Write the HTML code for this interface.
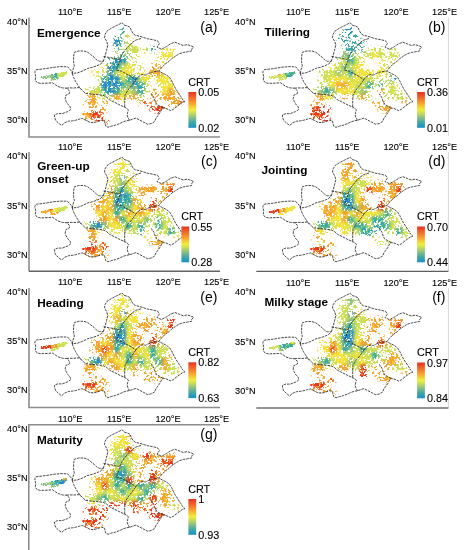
<!DOCTYPE html>
<html><head><meta charset="utf-8"><style>
html,body{margin:0;padding:0;background:#fff;}
svg{display:block;}
text{font-family:"Liberation Sans",Arial,sans-serif;fill:#1a1a1a;}
.ax{font-size:9.2px;fill:#000;stroke:#000;stroke-width:0.12px;}
.ti{font-size:11.8px;font-weight:bold;fill:#000;}
.lt{font-size:14px;fill:#000;}
.cb{font-size:10.8px;fill:#000;stroke:#000;stroke-width:0.1px;}
.bnd polyline{fill:none;stroke:#2a2a2a;stroke-width:0.85;stroke-dasharray:2.6 0.9;}
.fr polyline{fill:none;stroke:#8c8c8c;stroke-width:1.6;}
</style></head><body>
<svg width="465" height="550" viewBox="0 0 465 550">
<defs>
<linearGradient id="cb" x1="0" y1="0" x2="0" y2="1">
<stop offset="0" stop-color="#e8301e"/>
<stop offset="0.12" stop-color="#f05a28"/>
<stop offset="0.28" stop-color="#f5952e"/>
<stop offset="0.42" stop-color="#f5cf36"/>
<stop offset="0.5" stop-color="#eeee3c"/>
<stop offset="0.6" stop-color="#c4da5e"/>
<stop offset="0.72" stop-color="#88bc86"/>
<stop offset="0.86" stop-color="#3ea6a8"/>
<stop offset="1" stop-color="#1890c8"/>
</linearGradient>
<clipPath id="clipO"><polygon points="103.3,61.3 103.9,59.4 105.2,55.5 106.5,50.3 107.8,45.2 106.8,41.5 104.5,37.6 105.0,34.4 107.0,31.1 111.2,28.3 116.5,25.6 122.2,22.8 124.0,25.0 127.4,26.0 130.0,27.3 131.3,30.5 133.0,33.5 135.2,35.2 139.5,36.2 144.0,37.6 147.2,38.7 152.3,39.6 157.5,40.8 159.4,43.6 157.0,47.1 161.4,49.2 166.5,46.6 170.4,43.9 174.9,42.2 179.4,44.0 183.3,45.5 187.2,44.6 191.0,45.8 193.6,47.0 191.7,49.0 191.7,51.0 187.2,51.8 183.3,52.5 179.4,53.7 175.5,56.1 171.7,58.7 169.1,61.3 165.2,64.0 161.4,67.9 158.8,71.1 162.6,73.1 166.5,75.0 169.7,77.6 171.7,80.8 173.6,84.7 175.5,88.5 178.1,92.4 180.7,96.3 182.6,99.5 184.9,101.6 182.3,102.5 179.7,104.4 176.5,106.8 173.3,109.4 170.7,110.6 168.1,109.4 165.5,108.3 163.0,108.1 161.7,109.4 159.7,113.2 157.8,115.8 155.9,118.4 154.6,121.6 151.4,123.5 147.5,124.2 143.8,122.2 139.2,119.8 135.9,118.1 132.7,119.2 129.5,120.3 126.3,120.8 123.0,121.9 119.8,123.5 115.5,125.1 111.2,126.2 108.0,127.3 105.8,126.2 104.8,123.0 104.7,121.2 101.5,120.2 97.6,121.6 93.8,122.6 89.9,122.3 86.0,120.3 82.2,118.4 79.5,119.1 75.8,120.2 72.6,120.8 68.7,121.2 64.8,122.7 61.6,125.5 58.5,123.0 55.5,120.2 54.6,117.0 54.5,114.9 57.7,113.6 62.3,113.6 67.6,111.6 70.6,109.6 70.2,106.8 67.6,104.0 66.0,101.0 65.2,98.7 65.8,95.2 69.4,93.5 69.4,90.8 66.5,88.2 62.3,87.9 58.0,86.5 55.2,84.6 52.6,82.8 46.0,83.2 40.5,83.4 37.1,82.6 35.2,80.0 35.8,76.8 35.2,74.2 34.8,71.8 36.2,69.7 41.0,69.2 47.0,68.4 54.0,67.2 61.0,66.6 67.6,66.8 71.9,71.6 72.3,73.5"/></clipPath>
<filter id="soft" filterUnits="userSpaceOnUse" x="28" y="16" width="172" height="118" color-interpolation-filters="sRGB">
<feGaussianBlur in="SourceGraphic" stdDeviation="1.4" result="b"/>
<feTurbulence type="fractalNoise" baseFrequency="0.45" numOctaves="2" seed="7" result="n"/>
<feColorMatrix in="n" type="matrix" values="0 0 0 0 0  0 0 0 0 0  0 0 0 0 0  1 0 0 0 0" result="na"/>
<feComponentTransfer in="na" result="ns"><feFuncA type="linear" slope="3" intercept="-1"/></feComponentTransfer>
<feColorMatrix in="b" type="matrix" values="0 0 0 0 0  0 0 0 0 0  0 0 0 0 0  0 0 0 1.15 0" result="ba"/>
<feComposite in="ba" in2="ns" operator="arithmetic" k1="0" k2="5" k3="-5" k4="0" result="m"/>
<feComponentTransfer in="b" result="c"><feFuncA type="linear" slope="0" intercept="1"/></feComponentTransfer>
<feTurbulence type="fractalNoise" baseFrequency="0.45" numOctaves="1" seed="13" result="n2"/>
<feColorMatrix in="n2" type="matrix" values="0 0 0 0 0  0 0 0 0 0  0 0 0 0 0  6 0 0 0 -2.95" result="j"/>
<feFlood flood-color="#f4e23c" flood-opacity="0.5" result="fy"/>
<feComposite in="fy" in2="j" operator="in" result="yj"/>
<feComposite in="yj" in2="c" operator="over" result="c2"/>
<feComposite in="c2" in2="m" operator="in"/>
</filter>
<filter id="soft2" filterUnits="userSpaceOnUse" x="28" y="16" width="172" height="118" color-interpolation-filters="sRGB">
<feGaussianBlur in="SourceGraphic" stdDeviation="0.5" result="b"/>
<feTurbulence type="fractalNoise" baseFrequency="0.45" numOctaves="2" seed="7" result="n"/>
<feColorMatrix in="n" type="matrix" values="0 0 0 0 0  0 0 0 0 0  0 0 0 0 0  1 0 0 0 0" result="na"/>
<feComponentTransfer in="na" result="ns"><feFuncA type="linear" slope="3" intercept="-1"/></feComponentTransfer>
<feColorMatrix in="b" type="matrix" values="0 0 0 0 0  0 0 0 0 0  0 0 0 0 0  0 0 0 1.15 0" result="ba"/>
<feComposite in="ba" in2="ns" operator="arithmetic" k1="0" k2="5" k3="-5" k4="0" result="m"/>
<feComponentTransfer in="b" result="c"><feFuncA type="linear" slope="0" intercept="1"/></feComponentTransfer>
<feTurbulence type="fractalNoise" baseFrequency="0.45" numOctaves="1" seed="13" result="n2"/>
<feColorMatrix in="n2" type="matrix" values="0 0 0 0 0  0 0 0 0 0  0 0 0 0 0  6 0 0 0 -2.95" result="j"/>
<feFlood flood-color="#f4e23c" flood-opacity="0.5" result="fy"/>
<feComposite in="fy" in2="j" operator="in" result="yj"/>
<feComposite in="yj" in2="c" operator="over" result="c2"/>
<feComposite in="c2" in2="m" operator="in"/>
</filter>
</defs>
<rect width="465" height="550" fill="#fff"/>

<g class="fr">
<polyline points="29,17.5 29,137 220,137"/>
<polyline points="29,151.9 29,271.2"/>
<polyline points="29,271.2 220,271.2" style="stroke:#626262;stroke-width:1.4"/>
<polyline points="29,288 29,407.5 220,407.5"/>
<polyline points="28.8,550 28.8,424.7 220,424.7"/>
<polyline points="448.4,17.6 448.4,135.8" style="stroke:#d6d6d6;stroke-width:1"/>
<polyline points="448.4,152 448.4,271.3" style="stroke:#d6d6d6;stroke-width:1"/>
<polyline points="256.3,271.3 448.4,271.3" style="stroke:#5e5e5e;stroke-width:1.2"/>
<polyline points="448.4,288 448.4,408" style="stroke:#d6d6d6;stroke-width:1"/>
<polyline points="256.3,408 448.4,408" style="stroke:#707070;stroke-width:1.3"/>
</g>
<g transform="translate(0,0)">
<text class="ax" x="70.2" y="15" text-anchor="middle">110°E</text>
<text class="ax" x="119.2" y="15" text-anchor="middle">115°E</text>
<text class="ax" x="168.0" y="15" text-anchor="middle">120°E</text>
<text class="ax" x="216.6" y="15" text-anchor="middle">125°E</text>
<text class="ax" x="27.6" y="24.8" text-anchor="end">40°N</text>
<text class="ax" x="27.6" y="74.0" text-anchor="end">35°N</text>
<text class="ax" x="27.6" y="123.0" text-anchor="end">30°N</text>
<g class="map">
<g clip-path="url(#clipO)"><g filter="url(#soft)">
<rect x="120" y="28" width="6" height="6" fill="#2eaaa8" fill-opacity="0.36"/>
<rect x="114" y="34" width="6" height="6" fill="#2eaaa8" fill-opacity="0.36"/>
<rect x="120" y="34" width="6" height="6" fill="#86c286" fill-opacity="0.36"/>
<rect x="126" y="34" width="6" height="6" fill="#f4e23c" fill-opacity="0.36"/>
<rect x="114" y="40" width="6" height="6" fill="#1a8cd0" fill-opacity="0.88"/>
<rect x="120" y="40" width="6" height="6" fill="#86c286" fill-opacity="0.36"/>
<rect x="126" y="40" width="6" height="6" fill="#c8e05a" fill-opacity="0.36"/>
<rect x="114" y="46" width="6" height="6" fill="#2eaaa8" fill-opacity="0.36"/>
<rect x="120" y="46" width="6" height="6" fill="#c8e05a" fill-opacity="0.36"/>
<rect x="126" y="46" width="6" height="6" fill="#c8e05a" fill-opacity="0.88"/>
<rect x="132" y="46" width="6" height="6" fill="#c8e05a" fill-opacity="0.88"/>
<rect x="138" y="46" width="6" height="6" fill="#c8e05a" fill-opacity="0.36"/>
<rect x="144" y="46" width="6" height="6" fill="#c8e05a" fill-opacity="0.36"/>
<rect x="150" y="46" width="6" height="6" fill="#2eaaa8" fill-opacity="0.36"/>
<rect x="162" y="46" width="6" height="6" fill="#f4e23c" fill-opacity="0.36"/>
<rect x="168" y="46" width="6" height="6" fill="#f4e23c" fill-opacity="0.36"/>
<rect x="114" y="52" width="6" height="6" fill="#c8e05a" fill-opacity="0.36"/>
<rect x="120" y="52" width="6" height="6" fill="#2eaaa8" fill-opacity="0.36"/>
<rect x="126" y="52" width="6" height="6" fill="#86c286" fill-opacity="0.36"/>
<rect x="132" y="52" width="6" height="6" fill="#c8e05a" fill-opacity="0.36"/>
<rect x="138" y="52" width="6" height="6" fill="#f4e23c" fill-opacity="0.36"/>
<rect x="156" y="52" width="6" height="6" fill="#f4e23c" fill-opacity="0.36"/>
<rect x="162" y="52" width="6" height="6" fill="#f4e23c" fill-opacity="0.88"/>
<rect x="168" y="52" width="6" height="6" fill="#f4e23c" fill-opacity="0.88"/>
<rect x="108" y="58" width="6" height="6" fill="#2eaaa8" fill-opacity="0.36"/>
<rect x="114" y="58" width="6" height="6" fill="#1a8cd0" fill-opacity="0.88"/>
<rect x="120" y="58" width="6" height="6" fill="#1a8cd0" fill-opacity="0.88"/>
<rect x="126" y="58" width="6" height="6" fill="#c8e05a" fill-opacity="0.36"/>
<rect x="132" y="58" width="6" height="6" fill="#c8e05a" fill-opacity="0.36"/>
<rect x="156" y="58" width="6" height="6" fill="#f4e23c" fill-opacity="0.36"/>
<rect x="162" y="58" width="6" height="6" fill="#f4e23c" fill-opacity="0.36"/>
<rect x="102" y="64" width="6" height="6" fill="#f4e23c" fill-opacity="0.36"/>
<rect x="108" y="64" width="6" height="6" fill="#1a8cd0" fill-opacity="0.88"/>
<rect x="114" y="64" width="6" height="6" fill="#2eaaa8" fill-opacity="0.88"/>
<rect x="120" y="64" width="6" height="6" fill="#c8e05a" fill-opacity="0.88"/>
<rect x="126" y="64" width="6" height="6" fill="#f4e23c" fill-opacity="0.88"/>
<rect x="132" y="64" width="6" height="6" fill="#c8e05a" fill-opacity="0.36"/>
<rect x="138" y="64" width="6" height="6" fill="#c8e05a" fill-opacity="0.36"/>
<rect x="150" y="64" width="6" height="6" fill="#f5a02e" fill-opacity="0.36"/>
<rect x="156" y="64" width="6" height="6" fill="#f5a02e" fill-opacity="0.36"/>
<rect x="90" y="70" width="6" height="6" fill="#f4e23c" fill-opacity="0.36"/>
<rect x="96" y="70" width="6" height="6" fill="#f4e23c" fill-opacity="0.36"/>
<rect x="102" y="70" width="6" height="6" fill="#c8e05a" fill-opacity="0.36"/>
<rect x="108" y="70" width="6" height="6" fill="#1a8cd0" fill-opacity="0.88"/>
<rect x="114" y="70" width="6" height="6" fill="#c8e05a" fill-opacity="0.88"/>
<rect x="120" y="70" width="6" height="6" fill="#f4e23c" fill-opacity="0.88"/>
<rect x="126" y="70" width="6" height="6" fill="#f4e23c" fill-opacity="0.88"/>
<rect x="132" y="70" width="6" height="6" fill="#f4e23c" fill-opacity="0.36"/>
<rect x="138" y="70" width="6" height="6" fill="#f4e23c" fill-opacity="0.36"/>
<rect x="144" y="70" width="6" height="6" fill="#f4e23c" fill-opacity="0.36"/>
<rect x="150" y="70" width="6" height="6" fill="#f5a02e" fill-opacity="0.88"/>
<rect x="156" y="70" width="6" height="6" fill="#f5a02e" fill-opacity="0.88"/>
<rect x="162" y="70" width="6" height="6" fill="#f4e23c" fill-opacity="0.36"/>
<rect x="96" y="76" width="6" height="6" fill="#c8e05a" fill-opacity="0.36"/>
<rect x="102" y="76" width="6" height="6" fill="#2eaaa8" fill-opacity="0.88"/>
<rect x="108" y="76" width="6" height="6" fill="#1a8cd0" fill-opacity="0.88"/>
<rect x="114" y="76" width="6" height="6" fill="#1a8cd0" fill-opacity="0.88"/>
<rect x="120" y="76" width="6" height="6" fill="#c8e05a" fill-opacity="0.88"/>
<rect x="126" y="76" width="6" height="6" fill="#2eaaa8" fill-opacity="0.88"/>
<rect x="132" y="76" width="6" height="6" fill="#1a8cd0" fill-opacity="0.88"/>
<rect x="138" y="76" width="6" height="6" fill="#c8e05a" fill-opacity="0.88"/>
<rect x="144" y="76" width="6" height="6" fill="#f4e23c" fill-opacity="0.88"/>
<rect x="156" y="76" width="6" height="6" fill="#f4e23c" fill-opacity="0.88"/>
<rect x="162" y="76" width="6" height="6" fill="#f4e23c" fill-opacity="0.88"/>
<rect x="168" y="76" width="6" height="6" fill="#f4e23c" fill-opacity="0.36"/>
<rect x="96" y="82" width="6" height="6" fill="#c8e05a" fill-opacity="0.36"/>
<rect x="102" y="82" width="6" height="6" fill="#1a8cd0" fill-opacity="0.88"/>
<rect x="108" y="82" width="6" height="6" fill="#1a8cd0" fill-opacity="0.88"/>
<rect x="114" y="82" width="6" height="6" fill="#1a8cd0" fill-opacity="0.88"/>
<rect x="120" y="82" width="6" height="6" fill="#2eaaa8" fill-opacity="0.88"/>
<rect x="126" y="82" width="6" height="6" fill="#86c286" fill-opacity="0.88"/>
<rect x="132" y="82" width="6" height="6" fill="#1a8cd0" fill-opacity="0.88"/>
<rect x="138" y="82" width="6" height="6" fill="#2eaaa8" fill-opacity="0.88"/>
<rect x="144" y="82" width="6" height="6" fill="#c8e05a" fill-opacity="0.36"/>
<rect x="156" y="82" width="6" height="6" fill="#c8e05a" fill-opacity="0.36"/>
<rect x="162" y="82" width="6" height="6" fill="#f4e23c" fill-opacity="0.88"/>
<rect x="168" y="82" width="6" height="6" fill="#f4e23c" fill-opacity="0.88"/>
<rect x="84" y="88" width="6" height="6" fill="#c8e05a" fill-opacity="0.36"/>
<rect x="90" y="88" width="6" height="6" fill="#c8e05a" fill-opacity="0.88"/>
<rect x="96" y="88" width="6" height="6" fill="#c8e05a" fill-opacity="0.88"/>
<rect x="102" y="88" width="6" height="6" fill="#2eaaa8" fill-opacity="0.88"/>
<rect x="108" y="88" width="6" height="6" fill="#1a8cd0" fill-opacity="0.88"/>
<rect x="114" y="88" width="6" height="6" fill="#2eaaa8" fill-opacity="0.88"/>
<rect x="120" y="88" width="6" height="6" fill="#c8e05a" fill-opacity="0.88"/>
<rect x="126" y="88" width="6" height="6" fill="#c8e05a" fill-opacity="0.88"/>
<rect x="132" y="88" width="6" height="6" fill="#86c286" fill-opacity="0.88"/>
<rect x="138" y="88" width="6" height="6" fill="#2eaaa8" fill-opacity="0.88"/>
<rect x="144" y="88" width="6" height="6" fill="#c8e05a" fill-opacity="0.36"/>
<rect x="150" y="88" width="6" height="6" fill="#f5a02e" fill-opacity="0.36"/>
<rect x="162" y="88" width="6" height="6" fill="#f4e23c" fill-opacity="0.88"/>
<rect x="168" y="88" width="6" height="6" fill="#f5a02e" fill-opacity="0.88"/>
<rect x="174" y="88" width="6" height="6" fill="#f4e23c" fill-opacity="0.36"/>
<rect x="84" y="94" width="6" height="6" fill="#f5a02e" fill-opacity="0.36"/>
<rect x="90" y="94" width="6" height="6" fill="#f5a02e" fill-opacity="0.88"/>
<rect x="96" y="94" width="6" height="6" fill="#f4e23c" fill-opacity="0.36"/>
<rect x="102" y="94" width="6" height="6" fill="#c8e05a" fill-opacity="0.36"/>
<rect x="108" y="94" width="6" height="6" fill="#c8e05a" fill-opacity="0.36"/>
<rect x="114" y="94" width="6" height="6" fill="#f5a02e" fill-opacity="0.88"/>
<rect x="120" y="94" width="6" height="6" fill="#f4e23c" fill-opacity="0.88"/>
<rect x="126" y="94" width="6" height="6" fill="#f5a02e" fill-opacity="0.36"/>
<rect x="132" y="94" width="6" height="6" fill="#f5a02e" fill-opacity="0.88"/>
<rect x="138" y="94" width="6" height="6" fill="#c8e05a" fill-opacity="0.36"/>
<rect x="150" y="94" width="6" height="6" fill="#f5a02e" fill-opacity="0.36"/>
<rect x="156" y="94" width="6" height="6" fill="#f5a02e" fill-opacity="0.36"/>
<rect x="162" y="94" width="6" height="6" fill="#f5a02e" fill-opacity="0.88"/>
<rect x="168" y="94" width="6" height="6" fill="#f5a02e" fill-opacity="0.88"/>
<rect x="174" y="94" width="6" height="6" fill="#f5a02e" fill-opacity="0.36"/>
<rect x="84" y="100" width="6" height="6" fill="#f5a02e" fill-opacity="0.36"/>
<rect x="90" y="100" width="6" height="6" fill="#f5a02e" fill-opacity="0.88"/>
<rect x="102" y="100" width="6" height="6" fill="#f5a02e" fill-opacity="0.36"/>
<rect x="138" y="100" width="6" height="6" fill="#f5a02e" fill-opacity="0.36"/>
<rect x="144" y="100" width="6" height="6" fill="#e8361e" fill-opacity="0.36"/>
<rect x="150" y="100" width="6" height="6" fill="#f5a02e" fill-opacity="0.36"/>
<rect x="168" y="100" width="6" height="6" fill="#f5a02e" fill-opacity="0.36"/>
<rect x="174" y="100" width="6" height="6" fill="#f5a02e" fill-opacity="0.88"/>
<rect x="180" y="100" width="6" height="6" fill="#e8361e" fill-opacity="0.88"/>
<rect x="90" y="106" width="6" height="6" fill="#f5a02e" fill-opacity="0.36"/>
<rect x="96" y="106" width="6" height="6" fill="#f5a02e" fill-opacity="0.36"/>
<rect x="102" y="106" width="6" height="6" fill="#f5a02e" fill-opacity="0.36"/>
<rect x="150" y="106" width="6" height="6" fill="#e8361e" fill-opacity="0.36"/>
<rect x="156" y="106" width="6" height="6" fill="#e8361e" fill-opacity="0.88"/>
<rect x="162" y="106" width="6" height="6" fill="#e8361e" fill-opacity="0.36"/>
<rect x="84" y="112" width="6" height="6" fill="#f5a02e" fill-opacity="0.88"/>
<rect x="90" y="112" width="6" height="6" fill="#e8361e" fill-opacity="0.88"/>
<rect x="96" y="112" width="6" height="6" fill="#e8361e" fill-opacity="0.88"/>
<rect x="84" y="118" width="6" height="6" fill="#f5a02e" fill-opacity="0.36"/>
<rect x="90" y="118" width="6" height="6" fill="#f5a02e" fill-opacity="0.36"/>
<rect x="96" y="118" width="6" height="6" fill="#e8361e" fill-opacity="0.36"/>
<rect x="102" y="118" width="6" height="6" fill="#e8361e" fill-opacity="0.36"/>
</g><g filter="url(#soft2)">
<polygon points="41,76.4 46,75.4 51,74.4 52,78 46,79 41.5,78.6" fill="#86c286" fill-opacity="1.00"/>
<polygon points="51,74.4 57,73.4 58,77.4 52,78" fill="#2eaaa8" fill-opacity="1.00"/>
<polygon points="57,73.4 62,72 67,71.2 67.6,73.2 64,76.2 58,77.4" fill="#c8e05a" fill-opacity="1.00"/>
<polygon points="50,78.6 56,77.4 61,77.6 57,80 51,80.4" fill="#86c286" fill-opacity="0.75"/>
</g></g>
<g class="bnd">
<polyline points="141.0,38.5 136.0,40.0 132.5,42.2 128.2,46.5 123.9,51.8 121.7,55.1 120.5,58.5 119.6,61.5 117.4,66.9 116.4,70.1"/>
<polyline points="103.5,56.5 109.9,57.6 114.2,58.3 118.5,59.4 120.5,58.5"/>
<polyline points="116.4,70.1 121.7,71.2 127.1,74.4 131.4,76.6 135.7,79.8"/>
<polyline points="135.7,79.8 138.0,77.0 142.1,74.5 145.3,75.0 148.6,73.4 152.9,71.8 158.8,71.1"/>
<polyline points="135.7,79.8 132.0,85.0 128.0,90.0 125.0,95.0 124.7,100.0 124.7,108.1"/>
<polyline points="103.3,61.3 103.9,59.4 105.2,55.5 106.5,50.3 107.8,45.2 106.8,41.5 104.5,37.6 105.0,34.4 107.0,31.1 111.2,28.3 116.5,25.6 122.2,22.8 124.0,25.0 127.4,26.0 130.0,27.3 131.3,30.5 133.0,33.5 135.2,35.2 139.5,36.2 144.0,37.6 147.2,38.7 152.3,39.6 157.5,40.8 159.4,43.6 157.0,47.1 161.4,49.2 166.5,46.6 170.4,43.9 174.9,42.2 179.4,44.0 183.3,45.5 187.2,44.6 191.0,45.8 193.6,47.0 191.7,49.0 191.7,51.0 187.2,51.8 183.3,52.5 179.4,53.7 175.5,56.1 171.7,58.7 169.1,61.3 165.2,64.0 161.4,67.9 158.8,71.1 162.6,73.1 166.5,75.0 169.7,77.6 171.7,80.8 173.6,84.7 175.5,88.5 178.1,92.4 180.7,96.3 182.6,99.5 184.9,101.6 182.3,102.5 179.7,104.4 176.5,106.8 173.3,109.4 170.7,110.6 168.1,109.4 165.5,108.3 163.0,108.1 161.7,109.4 159.7,113.2 157.8,115.8 155.9,118.4 154.6,121.6 151.4,123.5 147.5,124.2 143.8,122.2 139.2,119.8 135.9,118.1 132.7,119.2 129.5,120.3 126.3,120.8 123.0,121.9 119.8,123.5 115.5,125.1 111.2,126.2 108.0,127.3 105.8,126.2 104.8,123.0 104.7,121.2 101.5,120.2 97.6,121.6 93.8,122.6 89.9,122.3 86.0,120.3 82.2,118.4 79.5,119.1 75.8,120.2 72.6,120.8 68.7,121.2 64.8,122.7 61.6,125.5 58.5,123.0 55.5,120.2 54.6,117.0 54.5,114.9 57.7,113.6 62.3,113.6 67.6,111.6 70.6,109.6 70.2,106.8 67.6,104.0 66.0,101.0 65.2,98.7 65.8,95.2 69.4,93.5 69.4,90.8 66.5,88.2 62.3,87.9 58.0,86.5 55.2,84.6 52.6,82.8 46.0,83.2 40.5,83.4 37.1,82.6 35.2,80.0 35.8,76.8 35.2,74.2 34.8,71.8 36.2,69.7 41.0,69.2 47.0,68.4 54.0,67.2 61.0,66.6 67.6,66.8 71.9,71.6 72.3,73.5"/>
<polyline points="72.3,73.5 73.0,69.7 74.3,65.8 73.6,61.9 73.6,56.8 74.3,52.3 78.8,51.0 83.9,51.0 87.8,52.3 91.0,54.8 94.3,57.4 96.8,60.0 99.4,61.3 103.3,61.3 100.7,63.9 96.8,65.8 93.0,67.1 87.8,68.4 82.6,71.0 77.5,72.9 72.3,73.5"/>
<polyline points="72.3,73.5 73.6,77.4 75.5,81.3 77.5,84.5 79.7,87.7 81.6,89.6 85.5,93.4"/>
<polyline points="66.5,88.2 70.0,87.9 73.9,88.0 79.0,87.6 81.6,89.6"/>
<polyline points="85.5,93.4 89.9,93.9 96.4,94.5 102.8,95.2 106.7,97.1 109.3,99.7 113.1,101.6 117.0,103.5 120.9,105.5 124.1,106.8 126.8,108.4 128.4,109.8 127.6,112.6 127.1,115.0 128.0,117.6 129.5,120.3"/>
<polyline points="163.0,108.1 159.7,106.1 156.5,104.2 155.2,101.6 153.9,97.7 151.4,93.9"/>
</g></g>
<text class="ti" x="37.0" y="36.6">Emergence</text>
<text class="lt" x="217.4" y="31.6" text-anchor="end">(a)</text>
<rect x="188.4" y="92" width="7.8" height="35.8" fill="url(#cb)"/>
<text class="cb" x="188.2" y="85.6">CRT</text>
<text class="cb" x="198.2" y="96.2">0.05</text>
<text class="cb" x="198.2" y="131.8">0.02</text>
</g>
<g transform="translate(228,0)">
<text class="ax" x="70.2" y="15" text-anchor="middle">110°E</text>
<text class="ax" x="119.2" y="15" text-anchor="middle">115°E</text>
<text class="ax" x="168.0" y="15" text-anchor="middle">120°E</text>
<text class="ax" x="216.6" y="15" text-anchor="middle">125°E</text>
<text class="ax" x="27.6" y="24.8" text-anchor="end">40°N</text>
<text class="ax" x="27.6" y="74.0" text-anchor="end">35°N</text>
<text class="ax" x="27.6" y="123.0" text-anchor="end">30°N</text>
<g class="map">
<g clip-path="url(#clipO)"><g filter="url(#soft)">
<rect x="114" y="28" width="6" height="6" fill="#1a8cd0" fill-opacity="0.36"/>
<rect x="120" y="28" width="6" height="6" fill="#1a8cd0" fill-opacity="0.36"/>
<rect x="108" y="34" width="6" height="6" fill="#2eaaa8" fill-opacity="0.36"/>
<rect x="114" y="34" width="6" height="6" fill="#1a8cd0" fill-opacity="0.36"/>
<rect x="120" y="34" width="6" height="6" fill="#2eaaa8" fill-opacity="0.36"/>
<rect x="126" y="34" width="6" height="6" fill="#2eaaa8" fill-opacity="0.36"/>
<rect x="114" y="40" width="6" height="6" fill="#2eaaa8" fill-opacity="0.36"/>
<rect x="120" y="40" width="6" height="6" fill="#2eaaa8" fill-opacity="0.36"/>
<rect x="126" y="40" width="6" height="6" fill="#2eaaa8" fill-opacity="0.36"/>
<rect x="132" y="40" width="6" height="6" fill="#2eaaa8" fill-opacity="0.36"/>
<rect x="114" y="46" width="6" height="6" fill="#2eaaa8" fill-opacity="0.36"/>
<rect x="120" y="46" width="6" height="6" fill="#2eaaa8" fill-opacity="0.88"/>
<rect x="126" y="46" width="6" height="6" fill="#2eaaa8" fill-opacity="0.36"/>
<rect x="132" y="46" width="6" height="6" fill="#2eaaa8" fill-opacity="0.36"/>
<rect x="138" y="46" width="6" height="6" fill="#c8e05a" fill-opacity="0.36"/>
<rect x="144" y="46" width="6" height="6" fill="#c8e05a" fill-opacity="0.36"/>
<rect x="150" y="46" width="6" height="6" fill="#c8e05a" fill-opacity="0.36"/>
<rect x="162" y="46" width="6" height="6" fill="#c8e05a" fill-opacity="0.36"/>
<rect x="114" y="52" width="6" height="6" fill="#86c286" fill-opacity="0.88"/>
<rect x="120" y="52" width="6" height="6" fill="#2eaaa8" fill-opacity="0.36"/>
<rect x="126" y="52" width="6" height="6" fill="#c8e05a" fill-opacity="0.36"/>
<rect x="132" y="52" width="6" height="6" fill="#c8e05a" fill-opacity="0.36"/>
<rect x="138" y="52" width="6" height="6" fill="#c8e05a" fill-opacity="0.88"/>
<rect x="144" y="52" width="6" height="6" fill="#f4e23c" fill-opacity="0.88"/>
<rect x="150" y="52" width="6" height="6" fill="#c8e05a" fill-opacity="0.88"/>
<rect x="156" y="52" width="6" height="6" fill="#c8e05a" fill-opacity="0.36"/>
<rect x="162" y="52" width="6" height="6" fill="#c8e05a" fill-opacity="0.88"/>
<rect x="168" y="52" width="6" height="6" fill="#c8e05a" fill-opacity="0.36"/>
<rect x="108" y="58" width="6" height="6" fill="#c8e05a" fill-opacity="0.36"/>
<rect x="114" y="58" width="6" height="6" fill="#c8e05a" fill-opacity="0.88"/>
<rect x="120" y="58" width="6" height="6" fill="#2eaaa8" fill-opacity="0.88"/>
<rect x="126" y="58" width="6" height="6" fill="#c8e05a" fill-opacity="0.88"/>
<rect x="132" y="58" width="6" height="6" fill="#f4e23c" fill-opacity="0.36"/>
<rect x="150" y="58" width="6" height="6" fill="#f4e23c" fill-opacity="0.36"/>
<rect x="156" y="58" width="6" height="6" fill="#c8e05a" fill-opacity="0.36"/>
<rect x="162" y="58" width="6" height="6" fill="#c8e05a" fill-opacity="0.36"/>
<rect x="102" y="64" width="6" height="6" fill="#f4e23c" fill-opacity="0.36"/>
<rect x="108" y="64" width="6" height="6" fill="#c8e05a" fill-opacity="0.88"/>
<rect x="114" y="64" width="6" height="6" fill="#86c286" fill-opacity="0.88"/>
<rect x="120" y="64" width="6" height="6" fill="#c8e05a" fill-opacity="0.88"/>
<rect x="126" y="64" width="6" height="6" fill="#f4e23c" fill-opacity="0.88"/>
<rect x="132" y="64" width="6" height="6" fill="#f4e23c" fill-opacity="0.36"/>
<rect x="150" y="64" width="6" height="6" fill="#f4e23c" fill-opacity="0.36"/>
<rect x="156" y="64" width="6" height="6" fill="#c8e05a" fill-opacity="0.36"/>
<rect x="90" y="70" width="6" height="6" fill="#c8e05a" fill-opacity="0.36"/>
<rect x="96" y="70" width="6" height="6" fill="#c8e05a" fill-opacity="0.88"/>
<rect x="102" y="70" width="6" height="6" fill="#c8e05a" fill-opacity="0.88"/>
<rect x="108" y="70" width="6" height="6" fill="#86c286" fill-opacity="0.88"/>
<rect x="114" y="70" width="6" height="6" fill="#c8e05a" fill-opacity="0.88"/>
<rect x="120" y="70" width="6" height="6" fill="#2eaaa8" fill-opacity="0.88"/>
<rect x="126" y="70" width="6" height="6" fill="#f4e23c" fill-opacity="0.88"/>
<rect x="132" y="70" width="6" height="6" fill="#f4e23c" fill-opacity="0.88"/>
<rect x="138" y="70" width="6" height="6" fill="#f4e23c" fill-opacity="0.88"/>
<rect x="144" y="70" width="6" height="6" fill="#f4e23c" fill-opacity="0.36"/>
<rect x="150" y="70" width="6" height="6" fill="#f4e23c" fill-opacity="0.88"/>
<rect x="156" y="70" width="6" height="6" fill="#c8e05a" fill-opacity="0.36"/>
<rect x="90" y="76" width="6" height="6" fill="#c8e05a" fill-opacity="0.36"/>
<rect x="96" y="76" width="6" height="6" fill="#c8e05a" fill-opacity="0.88"/>
<rect x="102" y="76" width="6" height="6" fill="#f4e23c" fill-opacity="0.88"/>
<rect x="108" y="76" width="6" height="6" fill="#f4e23c" fill-opacity="0.88"/>
<rect x="114" y="76" width="6" height="6" fill="#f4e23c" fill-opacity="0.88"/>
<rect x="120" y="76" width="6" height="6" fill="#c8e05a" fill-opacity="0.88"/>
<rect x="126" y="76" width="6" height="6" fill="#f4e23c" fill-opacity="0.88"/>
<rect x="132" y="76" width="6" height="6" fill="#c8e05a" fill-opacity="0.88"/>
<rect x="138" y="76" width="6" height="6" fill="#c8e05a" fill-opacity="0.88"/>
<rect x="144" y="76" width="6" height="6" fill="#c8e05a" fill-opacity="0.36"/>
<rect x="150" y="76" width="6" height="6" fill="#c8e05a" fill-opacity="0.36"/>
<rect x="156" y="76" width="6" height="6" fill="#c8e05a" fill-opacity="0.36"/>
<rect x="162" y="76" width="6" height="6" fill="#2eaaa8" fill-opacity="0.36"/>
<rect x="90" y="82" width="6" height="6" fill="#c8e05a" fill-opacity="0.36"/>
<rect x="96" y="82" width="6" height="6" fill="#c8e05a" fill-opacity="0.36"/>
<rect x="102" y="82" width="6" height="6" fill="#f4e23c" fill-opacity="0.88"/>
<rect x="108" y="82" width="6" height="6" fill="#f5a02e" fill-opacity="0.88"/>
<rect x="114" y="82" width="6" height="6" fill="#f5a02e" fill-opacity="0.88"/>
<rect x="120" y="82" width="6" height="6" fill="#f4e23c" fill-opacity="0.88"/>
<rect x="126" y="82" width="6" height="6" fill="#c8e05a" fill-opacity="0.88"/>
<rect x="132" y="82" width="6" height="6" fill="#c8e05a" fill-opacity="0.88"/>
<rect x="138" y="82" width="6" height="6" fill="#2eaaa8" fill-opacity="0.88"/>
<rect x="144" y="82" width="6" height="6" fill="#c8e05a" fill-opacity="0.36"/>
<rect x="150" y="82" width="6" height="6" fill="#2eaaa8" fill-opacity="0.36"/>
<rect x="156" y="82" width="6" height="6" fill="#c8e05a" fill-opacity="0.36"/>
<rect x="162" y="82" width="6" height="6" fill="#c8e05a" fill-opacity="0.88"/>
<rect x="84" y="88" width="6" height="6" fill="#c8e05a" fill-opacity="0.36"/>
<rect x="90" y="88" width="6" height="6" fill="#86c286" fill-opacity="0.88"/>
<rect x="96" y="88" width="6" height="6" fill="#2eaaa8" fill-opacity="0.88"/>
<rect x="102" y="88" width="6" height="6" fill="#86c286" fill-opacity="0.88"/>
<rect x="108" y="88" width="6" height="6" fill="#f4e23c" fill-opacity="0.88"/>
<rect x="114" y="88" width="6" height="6" fill="#f4e23c" fill-opacity="0.88"/>
<rect x="120" y="88" width="6" height="6" fill="#f4e23c" fill-opacity="0.88"/>
<rect x="126" y="88" width="6" height="6" fill="#c8e05a" fill-opacity="0.88"/>
<rect x="132" y="88" width="6" height="6" fill="#86c286" fill-opacity="0.88"/>
<rect x="138" y="88" width="6" height="6" fill="#c8e05a" fill-opacity="0.36"/>
<rect x="150" y="88" width="6" height="6" fill="#f5a02e" fill-opacity="0.36"/>
<rect x="156" y="88" width="6" height="6" fill="#c8e05a" fill-opacity="0.36"/>
<rect x="162" y="88" width="6" height="6" fill="#c8e05a" fill-opacity="0.88"/>
<rect x="168" y="88" width="6" height="6" fill="#c8e05a" fill-opacity="0.36"/>
<rect x="84" y="94" width="6" height="6" fill="#f5a02e" fill-opacity="0.36"/>
<rect x="90" y="94" width="6" height="6" fill="#f5a02e" fill-opacity="0.88"/>
<rect x="96" y="94" width="6" height="6" fill="#f4e23c" fill-opacity="0.88"/>
<rect x="102" y="94" width="6" height="6" fill="#c8e05a" fill-opacity="0.36"/>
<rect x="114" y="94" width="6" height="6" fill="#f5a02e" fill-opacity="0.36"/>
<rect x="126" y="94" width="6" height="6" fill="#c8e05a" fill-opacity="0.36"/>
<rect x="132" y="94" width="6" height="6" fill="#f5a02e" fill-opacity="0.88"/>
<rect x="138" y="94" width="6" height="6" fill="#c8e05a" fill-opacity="0.36"/>
<rect x="156" y="94" width="6" height="6" fill="#c8e05a" fill-opacity="0.36"/>
<rect x="162" y="94" width="6" height="6" fill="#c8e05a" fill-opacity="0.36"/>
<rect x="168" y="94" width="6" height="6" fill="#c8e05a" fill-opacity="0.88"/>
<rect x="174" y="94" width="6" height="6" fill="#c8e05a" fill-opacity="0.36"/>
<rect x="84" y="100" width="6" height="6" fill="#f5a02e" fill-opacity="0.36"/>
<rect x="90" y="100" width="6" height="6" fill="#f5a02e" fill-opacity="0.36"/>
<rect x="144" y="100" width="6" height="6" fill="#f5a02e" fill-opacity="0.36"/>
<rect x="150" y="100" width="6" height="6" fill="#f5a02e" fill-opacity="0.36"/>
<rect x="174" y="100" width="6" height="6" fill="#f5a02e" fill-opacity="0.36"/>
<rect x="84" y="106" width="6" height="6" fill="#e8361e" fill-opacity="0.88"/>
<rect x="90" y="106" width="6" height="6" fill="#e8361e" fill-opacity="0.36"/>
<rect x="96" y="106" width="6" height="6" fill="#e8361e" fill-opacity="0.36"/>
<rect x="150" y="106" width="6" height="6" fill="#f5a02e" fill-opacity="0.36"/>
<rect x="156" y="106" width="6" height="6" fill="#f5a02e" fill-opacity="0.88"/>
<rect x="84" y="112" width="6" height="6" fill="#e8361e" fill-opacity="0.88"/>
<rect x="90" y="112" width="6" height="6" fill="#e8361e" fill-opacity="0.88"/>
<rect x="96" y="112" width="6" height="6" fill="#e8361e" fill-opacity="0.36"/>
<rect x="90" y="118" width="6" height="6" fill="#e8361e" fill-opacity="0.36"/>
<rect x="96" y="118" width="6" height="6" fill="#e8361e" fill-opacity="0.36"/>
</g><g filter="url(#soft2)">
<polygon points="41,76.4 46,75.4 51,74.4 52,78 46,79 41.5,78.6" fill="#c8e05a" fill-opacity="1.00"/>
<polygon points="51,74.4 57,73.4 58,77.4 52,78" fill="#c8e05a" fill-opacity="1.00"/>
<polygon points="57,73.4 62,72 67,71.2 67.6,73.2 64,76.2 58,77.4" fill="#2eaaa8" fill-opacity="1.00"/>
<polygon points="50,78.6 56,77.4 61,77.6 57,80 51,80.4" fill="#c8e05a" fill-opacity="0.75"/>
<ellipse cx="51.5" cy="74.8" rx="1.3" ry="1.1" fill="#f6a030" fill-opacity="0.95"/>
</g></g>
<g class="bnd">
<polyline points="141.0,38.5 136.0,40.0 132.5,42.2 128.2,46.5 123.9,51.8 121.7,55.1 120.5,58.5 119.6,61.5 117.4,66.9 116.4,70.1"/>
<polyline points="103.5,56.5 109.9,57.6 114.2,58.3 118.5,59.4 120.5,58.5"/>
<polyline points="116.4,70.1 121.7,71.2 127.1,74.4 131.4,76.6 135.7,79.8"/>
<polyline points="135.7,79.8 138.0,77.0 142.1,74.5 145.3,75.0 148.6,73.4 152.9,71.8 158.8,71.1"/>
<polyline points="135.7,79.8 132.0,85.0 128.0,90.0 125.0,95.0 124.7,100.0 124.7,108.1"/>
<polyline points="103.3,61.3 103.9,59.4 105.2,55.5 106.5,50.3 107.8,45.2 106.8,41.5 104.5,37.6 105.0,34.4 107.0,31.1 111.2,28.3 116.5,25.6 122.2,22.8 124.0,25.0 127.4,26.0 130.0,27.3 131.3,30.5 133.0,33.5 135.2,35.2 139.5,36.2 144.0,37.6 147.2,38.7 152.3,39.6 157.5,40.8 159.4,43.6 157.0,47.1 161.4,49.2 166.5,46.6 170.4,43.9 174.9,42.2 179.4,44.0 183.3,45.5 187.2,44.6 191.0,45.8 193.6,47.0 191.7,49.0 191.7,51.0 187.2,51.8 183.3,52.5 179.4,53.7 175.5,56.1 171.7,58.7 169.1,61.3 165.2,64.0 161.4,67.9 158.8,71.1 162.6,73.1 166.5,75.0 169.7,77.6 171.7,80.8 173.6,84.7 175.5,88.5 178.1,92.4 180.7,96.3 182.6,99.5 184.9,101.6 182.3,102.5 179.7,104.4 176.5,106.8 173.3,109.4 170.7,110.6 168.1,109.4 165.5,108.3 163.0,108.1 161.7,109.4 159.7,113.2 157.8,115.8 155.9,118.4 154.6,121.6 151.4,123.5 147.5,124.2 143.8,122.2 139.2,119.8 135.9,118.1 132.7,119.2 129.5,120.3 126.3,120.8 123.0,121.9 119.8,123.5 115.5,125.1 111.2,126.2 108.0,127.3 105.8,126.2 104.8,123.0 104.7,121.2 101.5,120.2 97.6,121.6 93.8,122.6 89.9,122.3 86.0,120.3 82.2,118.4 79.5,119.1 75.8,120.2 72.6,120.8 68.7,121.2 64.8,122.7 61.6,125.5 58.5,123.0 55.5,120.2 54.6,117.0 54.5,114.9 57.7,113.6 62.3,113.6 67.6,111.6 70.6,109.6 70.2,106.8 67.6,104.0 66.0,101.0 65.2,98.7 65.8,95.2 69.4,93.5 69.4,90.8 66.5,88.2 62.3,87.9 58.0,86.5 55.2,84.6 52.6,82.8 46.0,83.2 40.5,83.4 37.1,82.6 35.2,80.0 35.8,76.8 35.2,74.2 34.8,71.8 36.2,69.7 41.0,69.2 47.0,68.4 54.0,67.2 61.0,66.6 67.6,66.8 71.9,71.6 72.3,73.5"/>
<polyline points="72.3,73.5 73.0,69.7 74.3,65.8 73.6,61.9 73.6,56.8 74.3,52.3 78.8,51.0 83.9,51.0 87.8,52.3 91.0,54.8 94.3,57.4 96.8,60.0 99.4,61.3 103.3,61.3 100.7,63.9 96.8,65.8 93.0,67.1 87.8,68.4 82.6,71.0 77.5,72.9 72.3,73.5"/>
<polyline points="72.3,73.5 73.6,77.4 75.5,81.3 77.5,84.5 79.7,87.7 81.6,89.6 85.5,93.4"/>
<polyline points="66.5,88.2 70.0,87.9 73.9,88.0 79.0,87.6 81.6,89.6"/>
<polyline points="85.5,93.4 89.9,93.9 96.4,94.5 102.8,95.2 106.7,97.1 109.3,99.7 113.1,101.6 117.0,103.5 120.9,105.5 124.1,106.8 126.8,108.4 128.4,109.8 127.6,112.6 127.1,115.0 128.0,117.6 129.5,120.3"/>
<polyline points="163.0,108.1 159.7,106.1 156.5,104.2 155.2,101.6 153.9,97.7 151.4,93.9"/>
</g></g>
<text class="ti" x="36.4" y="36.3">Tillering</text>
<text class="lt" x="217.4" y="31.6" text-anchor="end">(b)</text>
<rect x="189.1" y="92" width="7.8" height="35.8" fill="url(#cb)"/>
<text class="cb" x="188.9" y="85.6">CRT</text>
<text class="cb" x="198.9" y="96.2">0.36</text>
<text class="cb" x="198.9" y="131.8">0.01</text>
</g>
<g transform="translate(0,134.5)">
<text class="ax" x="70.2" y="15" text-anchor="middle">110°E</text>
<text class="ax" x="119.2" y="15" text-anchor="middle">115°E</text>
<text class="ax" x="168.0" y="15" text-anchor="middle">120°E</text>
<text class="ax" x="216.6" y="15" text-anchor="middle">125°E</text>
<text class="ax" x="27.6" y="24.8" text-anchor="end">40°N</text>
<text class="ax" x="27.6" y="74.0" text-anchor="end">35°N</text>
<text class="ax" x="27.6" y="123.0" text-anchor="end">30°N</text>
<g class="map">
<g clip-path="url(#clipO)"><g filter="url(#soft)">
<rect x="120" y="22" width="6" height="6" fill="#f4e23c" fill-opacity="0.36"/>
<rect x="114" y="28" width="6" height="6" fill="#f4e23c" fill-opacity="0.36"/>
<rect x="120" y="28" width="6" height="6" fill="#f4e23c" fill-opacity="0.88"/>
<rect x="126" y="28" width="6" height="6" fill="#c8e05a" fill-opacity="0.36"/>
<rect x="108" y="34" width="6" height="6" fill="#f4e23c" fill-opacity="0.36"/>
<rect x="114" y="34" width="6" height="6" fill="#f4e23c" fill-opacity="0.88"/>
<rect x="120" y="34" width="6" height="6" fill="#f4e23c" fill-opacity="0.36"/>
<rect x="126" y="34" width="6" height="6" fill="#c8e05a" fill-opacity="0.36"/>
<rect x="108" y="40" width="6" height="6" fill="#f4e23c" fill-opacity="0.36"/>
<rect x="114" y="40" width="6" height="6" fill="#c8e05a" fill-opacity="0.88"/>
<rect x="120" y="40" width="6" height="6" fill="#2eaaa8" fill-opacity="0.36"/>
<rect x="126" y="40" width="6" height="6" fill="#f4e23c" fill-opacity="0.36"/>
<rect x="132" y="40" width="6" height="6" fill="#f5a02e" fill-opacity="0.36"/>
<rect x="108" y="46" width="6" height="6" fill="#f4e23c" fill-opacity="0.36"/>
<rect x="114" y="46" width="6" height="6" fill="#c8e05a" fill-opacity="0.88"/>
<rect x="120" y="46" width="6" height="6" fill="#86c286" fill-opacity="0.88"/>
<rect x="126" y="46" width="6" height="6" fill="#f4e23c" fill-opacity="0.88"/>
<rect x="132" y="46" width="6" height="6" fill="#f4e23c" fill-opacity="0.36"/>
<rect x="162" y="46" width="6" height="6" fill="#f5a02e" fill-opacity="0.36"/>
<rect x="168" y="46" width="6" height="6" fill="#f5a02e" fill-opacity="0.36"/>
<rect x="108" y="52" width="6" height="6" fill="#f5a02e" fill-opacity="0.36"/>
<rect x="114" y="52" width="6" height="6" fill="#86c286" fill-opacity="0.88"/>
<rect x="120" y="52" width="6" height="6" fill="#2eaaa8" fill-opacity="0.88"/>
<rect x="126" y="52" width="6" height="6" fill="#c8e05a" fill-opacity="0.88"/>
<rect x="132" y="52" width="6" height="6" fill="#f4e23c" fill-opacity="0.36"/>
<rect x="138" y="52" width="6" height="6" fill="#f5a02e" fill-opacity="0.88"/>
<rect x="144" y="52" width="6" height="6" fill="#f5a02e" fill-opacity="0.88"/>
<rect x="150" y="52" width="6" height="6" fill="#f5a02e" fill-opacity="0.88"/>
<rect x="156" y="52" width="6" height="6" fill="#f5a02e" fill-opacity="0.36"/>
<rect x="162" y="52" width="6" height="6" fill="#f5a02e" fill-opacity="0.88"/>
<rect x="168" y="52" width="6" height="6" fill="#e8361e" fill-opacity="0.88"/>
<rect x="102" y="58" width="6" height="6" fill="#f4e23c" fill-opacity="0.36"/>
<rect x="108" y="58" width="6" height="6" fill="#f5a02e" fill-opacity="0.88"/>
<rect x="114" y="58" width="6" height="6" fill="#2eaaa8" fill-opacity="0.88"/>
<rect x="120" y="58" width="6" height="6" fill="#1a8cd0" fill-opacity="0.88"/>
<rect x="126" y="58" width="6" height="6" fill="#2eaaa8" fill-opacity="0.88"/>
<rect x="132" y="58" width="6" height="6" fill="#f4e23c" fill-opacity="0.36"/>
<rect x="138" y="58" width="6" height="6" fill="#f5a02e" fill-opacity="0.36"/>
<rect x="162" y="58" width="6" height="6" fill="#f5a02e" fill-opacity="0.36"/>
<rect x="96" y="64" width="6" height="6" fill="#f5a02e" fill-opacity="0.36"/>
<rect x="102" y="64" width="6" height="6" fill="#f5a02e" fill-opacity="0.88"/>
<rect x="108" y="64" width="6" height="6" fill="#f4e23c" fill-opacity="0.88"/>
<rect x="114" y="64" width="6" height="6" fill="#1a8cd0" fill-opacity="0.88"/>
<rect x="120" y="64" width="6" height="6" fill="#2eaaa8" fill-opacity="0.88"/>
<rect x="126" y="64" width="6" height="6" fill="#2eaaa8" fill-opacity="0.88"/>
<rect x="132" y="64" width="6" height="6" fill="#f5a02e" fill-opacity="0.88"/>
<rect x="138" y="64" width="6" height="6" fill="#f4e23c" fill-opacity="0.36"/>
<rect x="150" y="64" width="6" height="6" fill="#e8361e" fill-opacity="0.36"/>
<rect x="156" y="64" width="6" height="6" fill="#f5a02e" fill-opacity="0.36"/>
<rect x="90" y="70" width="6" height="6" fill="#f5a02e" fill-opacity="0.36"/>
<rect x="96" y="70" width="6" height="6" fill="#f5a02e" fill-opacity="0.88"/>
<rect x="102" y="70" width="6" height="6" fill="#f4e23c" fill-opacity="0.88"/>
<rect x="108" y="70" width="6" height="6" fill="#f5a02e" fill-opacity="0.88"/>
<rect x="114" y="70" width="6" height="6" fill="#2eaaa8" fill-opacity="0.88"/>
<rect x="120" y="70" width="6" height="6" fill="#2eaaa8" fill-opacity="0.88"/>
<rect x="126" y="70" width="6" height="6" fill="#86c286" fill-opacity="0.88"/>
<rect x="132" y="70" width="6" height="6" fill="#f4e23c" fill-opacity="0.88"/>
<rect x="138" y="70" width="6" height="6" fill="#f5a02e" fill-opacity="0.88"/>
<rect x="144" y="70" width="6" height="6" fill="#f5a02e" fill-opacity="0.36"/>
<rect x="150" y="70" width="6" height="6" fill="#e8361e" fill-opacity="0.88"/>
<rect x="156" y="70" width="6" height="6" fill="#f5a02e" fill-opacity="0.36"/>
<rect x="96" y="76" width="6" height="6" fill="#f4e23c" fill-opacity="0.88"/>
<rect x="102" y="76" width="6" height="6" fill="#f5a02e" fill-opacity="0.88"/>
<rect x="108" y="76" width="6" height="6" fill="#f4e23c" fill-opacity="0.88"/>
<rect x="114" y="76" width="6" height="6" fill="#2eaaa8" fill-opacity="0.88"/>
<rect x="120" y="76" width="6" height="6" fill="#f4e23c" fill-opacity="0.88"/>
<rect x="126" y="76" width="6" height="6" fill="#f5a02e" fill-opacity="0.88"/>
<rect x="132" y="76" width="6" height="6" fill="#f4e23c" fill-opacity="0.88"/>
<rect x="138" y="76" width="6" height="6" fill="#f5a02e" fill-opacity="0.88"/>
<rect x="144" y="76" width="6" height="6" fill="#f4e23c" fill-opacity="0.88"/>
<rect x="150" y="76" width="6" height="6" fill="#c8e05a" fill-opacity="0.36"/>
<rect x="156" y="76" width="6" height="6" fill="#c8e05a" fill-opacity="0.88"/>
<rect x="162" y="76" width="6" height="6" fill="#c8e05a" fill-opacity="0.36"/>
<rect x="96" y="82" width="6" height="6" fill="#f5a02e" fill-opacity="0.36"/>
<rect x="102" y="82" width="6" height="6" fill="#f5a02e" fill-opacity="0.88"/>
<rect x="108" y="82" width="6" height="6" fill="#f4e23c" fill-opacity="0.88"/>
<rect x="114" y="82" width="6" height="6" fill="#f5a02e" fill-opacity="0.88"/>
<rect x="120" y="82" width="6" height="6" fill="#2eaaa8" fill-opacity="0.88"/>
<rect x="126" y="82" width="6" height="6" fill="#f4e23c" fill-opacity="0.88"/>
<rect x="132" y="82" width="6" height="6" fill="#c8e05a" fill-opacity="0.88"/>
<rect x="138" y="82" width="6" height="6" fill="#f4e23c" fill-opacity="0.88"/>
<rect x="144" y="82" width="6" height="6" fill="#86c286" fill-opacity="0.88"/>
<rect x="150" y="82" width="6" height="6" fill="#c8e05a" fill-opacity="0.36"/>
<rect x="156" y="82" width="6" height="6" fill="#2eaaa8" fill-opacity="0.36"/>
<rect x="162" y="82" width="6" height="6" fill="#c8e05a" fill-opacity="0.88"/>
<rect x="168" y="82" width="6" height="6" fill="#c8e05a" fill-opacity="0.36"/>
<rect x="84" y="88" width="6" height="6" fill="#c8e05a" fill-opacity="0.36"/>
<rect x="90" y="88" width="6" height="6" fill="#2eaaa8" fill-opacity="0.88"/>
<rect x="96" y="88" width="6" height="6" fill="#1a8cd0" fill-opacity="0.88"/>
<rect x="102" y="88" width="6" height="6" fill="#86c286" fill-opacity="0.88"/>
<rect x="108" y="88" width="6" height="6" fill="#f4e23c" fill-opacity="0.88"/>
<rect x="114" y="88" width="6" height="6" fill="#f4e23c" fill-opacity="0.88"/>
<rect x="120" y="88" width="6" height="6" fill="#c8e05a" fill-opacity="0.88"/>
<rect x="126" y="88" width="6" height="6" fill="#2eaaa8" fill-opacity="0.88"/>
<rect x="132" y="88" width="6" height="6" fill="#c8e05a" fill-opacity="0.88"/>
<rect x="138" y="88" width="6" height="6" fill="#2eaaa8" fill-opacity="0.88"/>
<rect x="144" y="88" width="6" height="6" fill="#c8e05a" fill-opacity="0.36"/>
<rect x="150" y="88" width="6" height="6" fill="#c8e05a" fill-opacity="0.36"/>
<rect x="156" y="88" width="6" height="6" fill="#2eaaa8" fill-opacity="0.88"/>
<rect x="162" y="88" width="6" height="6" fill="#c8e05a" fill-opacity="0.88"/>
<rect x="168" y="88" width="6" height="6" fill="#c8e05a" fill-opacity="0.36"/>
<rect x="84" y="94" width="6" height="6" fill="#f5a02e" fill-opacity="0.36"/>
<rect x="90" y="94" width="6" height="6" fill="#f5a02e" fill-opacity="0.88"/>
<rect x="96" y="94" width="6" height="6" fill="#f4e23c" fill-opacity="0.36"/>
<rect x="108" y="94" width="6" height="6" fill="#c8e05a" fill-opacity="0.36"/>
<rect x="114" y="94" width="6" height="6" fill="#f4e23c" fill-opacity="0.36"/>
<rect x="120" y="94" width="6" height="6" fill="#c8e05a" fill-opacity="0.36"/>
<rect x="126" y="94" width="6" height="6" fill="#c8e05a" fill-opacity="0.36"/>
<rect x="132" y="94" width="6" height="6" fill="#c8e05a" fill-opacity="0.88"/>
<rect x="138" y="94" width="6" height="6" fill="#2eaaa8" fill-opacity="0.36"/>
<rect x="144" y="94" width="6" height="6" fill="#f4e23c" fill-opacity="0.36"/>
<rect x="156" y="94" width="6" height="6" fill="#c8e05a" fill-opacity="0.36"/>
<rect x="162" y="94" width="6" height="6" fill="#c8e05a" fill-opacity="0.88"/>
<rect x="168" y="94" width="6" height="6" fill="#2eaaa8" fill-opacity="0.88"/>
<rect x="174" y="94" width="6" height="6" fill="#c8e05a" fill-opacity="0.36"/>
<rect x="90" y="100" width="6" height="6" fill="#f5a02e" fill-opacity="0.88"/>
<rect x="144" y="100" width="6" height="6" fill="#f4e23c" fill-opacity="0.36"/>
<rect x="156" y="100" width="6" height="6" fill="#f5a02e" fill-opacity="0.36"/>
<rect x="174" y="100" width="6" height="6" fill="#f4e23c" fill-opacity="0.36"/>
<rect x="90" y="106" width="6" height="6" fill="#e8361e" fill-opacity="0.36"/>
<rect x="96" y="106" width="6" height="6" fill="#f5a02e" fill-opacity="0.36"/>
<rect x="102" y="106" width="6" height="6" fill="#e8361e" fill-opacity="0.36"/>
<rect x="150" y="106" width="6" height="6" fill="#f5a02e" fill-opacity="0.36"/>
<rect x="156" y="106" width="6" height="6" fill="#f5a02e" fill-opacity="0.88"/>
<rect x="84" y="112" width="6" height="6" fill="#e8361e" fill-opacity="0.88"/>
<rect x="90" y="112" width="6" height="6" fill="#e8361e" fill-opacity="0.88"/>
<rect x="96" y="112" width="6" height="6" fill="#f5a02e" fill-opacity="0.88"/>
<rect x="102" y="112" width="6" height="6" fill="#e8361e" fill-opacity="0.36"/>
<rect x="84" y="118" width="6" height="6" fill="#f5a02e" fill-opacity="0.36"/>
<rect x="90" y="118" width="6" height="6" fill="#f5a02e" fill-opacity="0.88"/>
<rect x="96" y="118" width="6" height="6" fill="#f5a02e" fill-opacity="0.36"/>
<rect x="102" y="118" width="6" height="6" fill="#f5a02e" fill-opacity="0.36"/>
</g><g filter="url(#soft2)">
<polygon points="41,76.4 46,75.4 51,74.4 52,78 46,79 41.5,78.6" fill="#f5a02e" fill-opacity="1.00"/>
<polygon points="51,74.4 57,73.4 58,77.4 52,78" fill="#f4e23c" fill-opacity="1.00"/>
<polygon points="57,73.4 62,72 67,71.2 67.6,73.2 64,76.2 58,77.4" fill="#c8e05a" fill-opacity="1.00"/>
<polygon points="50,78.6 56,77.4 61,77.6 57,80 51,80.4" fill="#f5a02e" fill-opacity="0.75"/>
<ellipse cx="51.5" cy="74.8" rx="1.4" ry="1.1" fill="#e63a26" fill-opacity="0.95"/>
</g></g>
<g class="bnd">
<polyline points="141.0,38.5 136.0,40.0 132.5,42.2 128.2,46.5 123.9,51.8 121.7,55.1 120.5,58.5 119.6,61.5 117.4,66.9 116.4,70.1"/>
<polyline points="103.5,56.5 109.9,57.6 114.2,58.3 118.5,59.4 120.5,58.5"/>
<polyline points="116.4,70.1 121.7,71.2 127.1,74.4 131.4,76.6 135.7,79.8"/>
<polyline points="135.7,79.8 138.0,77.0 142.1,74.5 145.3,75.0 148.6,73.4 152.9,71.8 158.8,71.1"/>
<polyline points="135.7,79.8 132.0,85.0 128.0,90.0 125.0,95.0 124.7,100.0 124.7,108.1"/>
<polyline points="103.3,61.3 103.9,59.4 105.2,55.5 106.5,50.3 107.8,45.2 106.8,41.5 104.5,37.6 105.0,34.4 107.0,31.1 111.2,28.3 116.5,25.6 122.2,22.8 124.0,25.0 127.4,26.0 130.0,27.3 131.3,30.5 133.0,33.5 135.2,35.2 139.5,36.2 144.0,37.6 147.2,38.7 152.3,39.6 157.5,40.8 159.4,43.6 157.0,47.1 161.4,49.2 166.5,46.6 170.4,43.9 174.9,42.2 179.4,44.0 183.3,45.5 187.2,44.6 191.0,45.8 193.6,47.0 191.7,49.0 191.7,51.0 187.2,51.8 183.3,52.5 179.4,53.7 175.5,56.1 171.7,58.7 169.1,61.3 165.2,64.0 161.4,67.9 158.8,71.1 162.6,73.1 166.5,75.0 169.7,77.6 171.7,80.8 173.6,84.7 175.5,88.5 178.1,92.4 180.7,96.3 182.6,99.5 184.9,101.6 182.3,102.5 179.7,104.4 176.5,106.8 173.3,109.4 170.7,110.6 168.1,109.4 165.5,108.3 163.0,108.1 161.7,109.4 159.7,113.2 157.8,115.8 155.9,118.4 154.6,121.6 151.4,123.5 147.5,124.2 143.8,122.2 139.2,119.8 135.9,118.1 132.7,119.2 129.5,120.3 126.3,120.8 123.0,121.9 119.8,123.5 115.5,125.1 111.2,126.2 108.0,127.3 105.8,126.2 104.8,123.0 104.7,121.2 101.5,120.2 97.6,121.6 93.8,122.6 89.9,122.3 86.0,120.3 82.2,118.4 79.5,119.1 75.8,120.2 72.6,120.8 68.7,121.2 64.8,122.7 61.6,125.5 58.5,123.0 55.5,120.2 54.6,117.0 54.5,114.9 57.7,113.6 62.3,113.6 67.6,111.6 70.6,109.6 70.2,106.8 67.6,104.0 66.0,101.0 65.2,98.7 65.8,95.2 69.4,93.5 69.4,90.8 66.5,88.2 62.3,87.9 58.0,86.5 55.2,84.6 52.6,82.8 46.0,83.2 40.5,83.4 37.1,82.6 35.2,80.0 35.8,76.8 35.2,74.2 34.8,71.8 36.2,69.7 41.0,69.2 47.0,68.4 54.0,67.2 61.0,66.6 67.6,66.8 71.9,71.6 72.3,73.5"/>
<polyline points="72.3,73.5 73.0,69.7 74.3,65.8 73.6,61.9 73.6,56.8 74.3,52.3 78.8,51.0 83.9,51.0 87.8,52.3 91.0,54.8 94.3,57.4 96.8,60.0 99.4,61.3 103.3,61.3 100.7,63.9 96.8,65.8 93.0,67.1 87.8,68.4 82.6,71.0 77.5,72.9 72.3,73.5"/>
<polyline points="72.3,73.5 73.6,77.4 75.5,81.3 77.5,84.5 79.7,87.7 81.6,89.6 85.5,93.4"/>
<polyline points="66.5,88.2 70.0,87.9 73.9,88.0 79.0,87.6 81.6,89.6"/>
<polyline points="85.5,93.4 89.9,93.9 96.4,94.5 102.8,95.2 106.7,97.1 109.3,99.7 113.1,101.6 117.0,103.5 120.9,105.5 124.1,106.8 126.8,108.4 128.4,109.8 127.6,112.6 127.1,115.0 128.0,117.6 129.5,120.3"/>
<polyline points="163.0,108.1 159.7,106.1 156.5,104.2 155.2,101.6 153.9,97.7 151.4,93.9"/>
</g></g>
<text class="ti" x="37.2" y="35.2">Green-up</text>
<text class="ti" x="37.2" y="48.5">onset</text>
<text class="lt" x="217.4" y="31.6" text-anchor="end">(c)</text>
<rect x="181.4" y="92" width="7.8" height="35.8" fill="url(#cb)"/>
<text class="cb" x="181.2" y="85.6">CRT</text>
<text class="cb" x="191.2" y="96.2">0.55</text>
<text class="cb" x="191.2" y="131.8">0.28</text>
</g>
<g transform="translate(228,134.5)">
<text class="ax" x="70.2" y="15" text-anchor="middle">110°E</text>
<text class="ax" x="119.2" y="15" text-anchor="middle">115°E</text>
<text class="ax" x="168.0" y="15" text-anchor="middle">120°E</text>
<text class="ax" x="216.6" y="15" text-anchor="middle">125°E</text>
<text class="ax" x="27.6" y="24.8" text-anchor="end">40°N</text>
<text class="ax" x="27.6" y="74.0" text-anchor="end">35°N</text>
<text class="ax" x="27.6" y="123.0" text-anchor="end">30°N</text>
<g class="map">
<g clip-path="url(#clipO)"><g filter="url(#soft)">
<rect x="114" y="28" width="6" height="6" fill="#f5a02e" fill-opacity="0.36"/>
<rect x="120" y="28" width="6" height="6" fill="#f5a02e" fill-opacity="0.88"/>
<rect x="114" y="34" width="6" height="6" fill="#f5a02e" fill-opacity="0.88"/>
<rect x="120" y="34" width="6" height="6" fill="#f5a02e" fill-opacity="0.36"/>
<rect x="126" y="34" width="6" height="6" fill="#f5a02e" fill-opacity="0.36"/>
<rect x="114" y="40" width="6" height="6" fill="#f5a02e" fill-opacity="0.88"/>
<rect x="120" y="40" width="6" height="6" fill="#f4e23c" fill-opacity="0.36"/>
<rect x="126" y="40" width="6" height="6" fill="#f5a02e" fill-opacity="0.36"/>
<rect x="132" y="40" width="6" height="6" fill="#c8e05a" fill-opacity="0.36"/>
<rect x="138" y="40" width="6" height="6" fill="#f4e23c" fill-opacity="0.36"/>
<rect x="114" y="46" width="6" height="6" fill="#f4e23c" fill-opacity="0.88"/>
<rect x="120" y="46" width="6" height="6" fill="#f4e23c" fill-opacity="0.88"/>
<rect x="126" y="46" width="6" height="6" fill="#c8e05a" fill-opacity="0.88"/>
<rect x="132" y="46" width="6" height="6" fill="#c8e05a" fill-opacity="0.88"/>
<rect x="138" y="46" width="6" height="6" fill="#f4e23c" fill-opacity="0.36"/>
<rect x="144" y="46" width="6" height="6" fill="#f5a02e" fill-opacity="0.36"/>
<rect x="150" y="46" width="6" height="6" fill="#f5a02e" fill-opacity="0.36"/>
<rect x="162" y="46" width="6" height="6" fill="#f5a02e" fill-opacity="0.88"/>
<rect x="168" y="46" width="6" height="6" fill="#f5a02e" fill-opacity="0.36"/>
<rect x="114" y="52" width="6" height="6" fill="#c8e05a" fill-opacity="0.88"/>
<rect x="120" y="52" width="6" height="6" fill="#86c286" fill-opacity="0.88"/>
<rect x="126" y="52" width="6" height="6" fill="#c8e05a" fill-opacity="0.88"/>
<rect x="132" y="52" width="6" height="6" fill="#f4e23c" fill-opacity="0.36"/>
<rect x="138" y="52" width="6" height="6" fill="#e8361e" fill-opacity="0.88"/>
<rect x="144" y="52" width="6" height="6" fill="#f5a02e" fill-opacity="0.88"/>
<rect x="150" y="52" width="6" height="6" fill="#f5a02e" fill-opacity="0.88"/>
<rect x="156" y="52" width="6" height="6" fill="#f5a02e" fill-opacity="0.36"/>
<rect x="162" y="52" width="6" height="6" fill="#f5a02e" fill-opacity="0.88"/>
<rect x="168" y="52" width="6" height="6" fill="#e8361e" fill-opacity="0.88"/>
<rect x="174" y="52" width="6" height="6" fill="#f5a02e" fill-opacity="0.36"/>
<rect x="108" y="58" width="6" height="6" fill="#f5a02e" fill-opacity="0.36"/>
<rect x="114" y="58" width="6" height="6" fill="#2eaaa8" fill-opacity="0.88"/>
<rect x="120" y="58" width="6" height="6" fill="#2eaaa8" fill-opacity="0.88"/>
<rect x="126" y="58" width="6" height="6" fill="#f4e23c" fill-opacity="0.88"/>
<rect x="132" y="58" width="6" height="6" fill="#f5a02e" fill-opacity="0.36"/>
<rect x="156" y="58" width="6" height="6" fill="#f5a02e" fill-opacity="0.36"/>
<rect x="162" y="58" width="6" height="6" fill="#f5a02e" fill-opacity="0.88"/>
<rect x="102" y="64" width="6" height="6" fill="#f5a02e" fill-opacity="0.36"/>
<rect x="108" y="64" width="6" height="6" fill="#f5a02e" fill-opacity="0.88"/>
<rect x="114" y="64" width="6" height="6" fill="#1a8cd0" fill-opacity="0.88"/>
<rect x="120" y="64" width="6" height="6" fill="#1a8cd0" fill-opacity="0.88"/>
<rect x="126" y="64" width="6" height="6" fill="#f4e23c" fill-opacity="0.88"/>
<rect x="132" y="64" width="6" height="6" fill="#f5a02e" fill-opacity="0.88"/>
<rect x="150" y="64" width="6" height="6" fill="#e8361e" fill-opacity="0.36"/>
<rect x="156" y="64" width="6" height="6" fill="#f5a02e" fill-opacity="0.36"/>
<rect x="90" y="70" width="6" height="6" fill="#f4e23c" fill-opacity="0.36"/>
<rect x="96" y="70" width="6" height="6" fill="#f5a02e" fill-opacity="0.88"/>
<rect x="102" y="70" width="6" height="6" fill="#f5a02e" fill-opacity="0.88"/>
<rect x="108" y="70" width="6" height="6" fill="#f4e23c" fill-opacity="0.88"/>
<rect x="114" y="70" width="6" height="6" fill="#2eaaa8" fill-opacity="0.88"/>
<rect x="120" y="70" width="6" height="6" fill="#1a8cd0" fill-opacity="0.88"/>
<rect x="126" y="70" width="6" height="6" fill="#86c286" fill-opacity="0.88"/>
<rect x="132" y="70" width="6" height="6" fill="#f5a02e" fill-opacity="0.88"/>
<rect x="138" y="70" width="6" height="6" fill="#f5a02e" fill-opacity="0.36"/>
<rect x="150" y="70" width="6" height="6" fill="#e8361e" fill-opacity="0.88"/>
<rect x="156" y="70" width="6" height="6" fill="#f5a02e" fill-opacity="0.36"/>
<rect x="96" y="76" width="6" height="6" fill="#f5a02e" fill-opacity="0.88"/>
<rect x="102" y="76" width="6" height="6" fill="#f5a02e" fill-opacity="0.88"/>
<rect x="108" y="76" width="6" height="6" fill="#f4e23c" fill-opacity="0.88"/>
<rect x="114" y="76" width="6" height="6" fill="#f5a02e" fill-opacity="0.88"/>
<rect x="120" y="76" width="6" height="6" fill="#f4e23c" fill-opacity="0.88"/>
<rect x="126" y="76" width="6" height="6" fill="#f5a02e" fill-opacity="0.88"/>
<rect x="132" y="76" width="6" height="6" fill="#f4e23c" fill-opacity="0.88"/>
<rect x="138" y="76" width="6" height="6" fill="#f4e23c" fill-opacity="0.88"/>
<rect x="144" y="76" width="6" height="6" fill="#f4e23c" fill-opacity="0.88"/>
<rect x="150" y="76" width="6" height="6" fill="#c8e05a" fill-opacity="0.88"/>
<rect x="156" y="76" width="6" height="6" fill="#2eaaa8" fill-opacity="0.88"/>
<rect x="162" y="76" width="6" height="6" fill="#c8e05a" fill-opacity="0.36"/>
<rect x="96" y="82" width="6" height="6" fill="#f5a02e" fill-opacity="0.36"/>
<rect x="102" y="82" width="6" height="6" fill="#f4e23c" fill-opacity="0.88"/>
<rect x="108" y="82" width="6" height="6" fill="#f4e23c" fill-opacity="0.88"/>
<rect x="114" y="82" width="6" height="6" fill="#f5a02e" fill-opacity="0.88"/>
<rect x="120" y="82" width="6" height="6" fill="#2eaaa8" fill-opacity="0.88"/>
<rect x="126" y="82" width="6" height="6" fill="#c8e05a" fill-opacity="0.88"/>
<rect x="132" y="82" width="6" height="6" fill="#f4e23c" fill-opacity="0.88"/>
<rect x="138" y="82" width="6" height="6" fill="#c8e05a" fill-opacity="0.88"/>
<rect x="144" y="82" width="6" height="6" fill="#2eaaa8" fill-opacity="0.88"/>
<rect x="150" y="82" width="6" height="6" fill="#2eaaa8" fill-opacity="0.88"/>
<rect x="156" y="82" width="6" height="6" fill="#c8e05a" fill-opacity="0.36"/>
<rect x="162" y="82" width="6" height="6" fill="#c8e05a" fill-opacity="0.88"/>
<rect x="168" y="82" width="6" height="6" fill="#c8e05a" fill-opacity="0.36"/>
<rect x="84" y="88" width="6" height="6" fill="#c8e05a" fill-opacity="0.36"/>
<rect x="90" y="88" width="6" height="6" fill="#2eaaa8" fill-opacity="0.88"/>
<rect x="96" y="88" width="6" height="6" fill="#2eaaa8" fill-opacity="0.88"/>
<rect x="102" y="88" width="6" height="6" fill="#c8e05a" fill-opacity="0.88"/>
<rect x="108" y="88" width="6" height="6" fill="#f4e23c" fill-opacity="0.88"/>
<rect x="114" y="88" width="6" height="6" fill="#f4e23c" fill-opacity="0.88"/>
<rect x="120" y="88" width="6" height="6" fill="#c8e05a" fill-opacity="0.88"/>
<rect x="126" y="88" width="6" height="6" fill="#2eaaa8" fill-opacity="0.88"/>
<rect x="132" y="88" width="6" height="6" fill="#2eaaa8" fill-opacity="0.88"/>
<rect x="138" y="88" width="6" height="6" fill="#c8e05a" fill-opacity="0.88"/>
<rect x="144" y="88" width="6" height="6" fill="#2eaaa8" fill-opacity="0.36"/>
<rect x="150" y="88" width="6" height="6" fill="#2eaaa8" fill-opacity="0.88"/>
<rect x="156" y="88" width="6" height="6" fill="#2eaaa8" fill-opacity="0.88"/>
<rect x="162" y="88" width="6" height="6" fill="#c8e05a" fill-opacity="0.88"/>
<rect x="168" y="88" width="6" height="6" fill="#c8e05a" fill-opacity="0.36"/>
<rect x="84" y="94" width="6" height="6" fill="#f5a02e" fill-opacity="0.36"/>
<rect x="90" y="94" width="6" height="6" fill="#f4e23c" fill-opacity="0.88"/>
<rect x="96" y="94" width="6" height="6" fill="#c8e05a" fill-opacity="0.36"/>
<rect x="114" y="94" width="6" height="6" fill="#f4e23c" fill-opacity="0.88"/>
<rect x="120" y="94" width="6" height="6" fill="#c8e05a" fill-opacity="0.36"/>
<rect x="126" y="94" width="6" height="6" fill="#c8e05a" fill-opacity="0.88"/>
<rect x="132" y="94" width="6" height="6" fill="#2eaaa8" fill-opacity="0.88"/>
<rect x="138" y="94" width="6" height="6" fill="#2eaaa8" fill-opacity="0.88"/>
<rect x="144" y="94" width="6" height="6" fill="#2eaaa8" fill-opacity="0.36"/>
<rect x="156" y="94" width="6" height="6" fill="#c8e05a" fill-opacity="0.36"/>
<rect x="162" y="94" width="6" height="6" fill="#c8e05a" fill-opacity="0.36"/>
<rect x="168" y="94" width="6" height="6" fill="#2eaaa8" fill-opacity="0.88"/>
<rect x="174" y="94" width="6" height="6" fill="#c8e05a" fill-opacity="0.88"/>
<rect x="84" y="100" width="6" height="6" fill="#f5a02e" fill-opacity="0.36"/>
<rect x="90" y="100" width="6" height="6" fill="#f5a02e" fill-opacity="0.36"/>
<rect x="144" y="100" width="6" height="6" fill="#c8e05a" fill-opacity="0.36"/>
<rect x="174" y="100" width="6" height="6" fill="#c8e05a" fill-opacity="0.36"/>
<rect x="90" y="106" width="6" height="6" fill="#f4e23c" fill-opacity="0.36"/>
<rect x="96" y="106" width="6" height="6" fill="#f5a02e" fill-opacity="0.36"/>
<rect x="102" y="106" width="6" height="6" fill="#f5a02e" fill-opacity="0.36"/>
<rect x="150" y="106" width="6" height="6" fill="#c8e05a" fill-opacity="0.36"/>
<rect x="156" y="106" width="6" height="6" fill="#c8e05a" fill-opacity="0.36"/>
<rect x="84" y="112" width="6" height="6" fill="#e8361e" fill-opacity="0.88"/>
<rect x="90" y="112" width="6" height="6" fill="#e8361e" fill-opacity="0.88"/>
<rect x="96" y="112" width="6" height="6" fill="#f5a02e" fill-opacity="0.36"/>
<rect x="84" y="118" width="6" height="6" fill="#f4e23c" fill-opacity="0.36"/>
<rect x="90" y="118" width="6" height="6" fill="#f5a02e" fill-opacity="0.36"/>
<rect x="96" y="118" width="6" height="6" fill="#f5a02e" fill-opacity="0.36"/>
<rect x="102" y="118" width="6" height="6" fill="#f5a02e" fill-opacity="0.36"/>
</g><g filter="url(#soft2)">
<polygon points="41,76.4 46,75.4 51,74.4 52,78 46,79 41.5,78.6" fill="#e8361e" fill-opacity="1.00"/>
<polygon points="51,74.4 57,73.4 58,77.4 52,78" fill="#f5a02e" fill-opacity="1.00"/>
<polygon points="57,73.4 62,72 67,71.2 67.6,73.2 64,76.2 58,77.4" fill="#f4e23c" fill-opacity="1.00"/>
<polygon points="50,78.6 56,77.4 61,77.6 57,80 51,80.4" fill="#f4e23c" fill-opacity="0.75"/>
</g></g>
<g class="bnd">
<polyline points="141.0,38.5 136.0,40.0 132.5,42.2 128.2,46.5 123.9,51.8 121.7,55.1 120.5,58.5 119.6,61.5 117.4,66.9 116.4,70.1"/>
<polyline points="103.5,56.5 109.9,57.6 114.2,58.3 118.5,59.4 120.5,58.5"/>
<polyline points="116.4,70.1 121.7,71.2 127.1,74.4 131.4,76.6 135.7,79.8"/>
<polyline points="135.7,79.8 138.0,77.0 142.1,74.5 145.3,75.0 148.6,73.4 152.9,71.8 158.8,71.1"/>
<polyline points="135.7,79.8 132.0,85.0 128.0,90.0 125.0,95.0 124.7,100.0 124.7,108.1"/>
<polyline points="103.3,61.3 103.9,59.4 105.2,55.5 106.5,50.3 107.8,45.2 106.8,41.5 104.5,37.6 105.0,34.4 107.0,31.1 111.2,28.3 116.5,25.6 122.2,22.8 124.0,25.0 127.4,26.0 130.0,27.3 131.3,30.5 133.0,33.5 135.2,35.2 139.5,36.2 144.0,37.6 147.2,38.7 152.3,39.6 157.5,40.8 159.4,43.6 157.0,47.1 161.4,49.2 166.5,46.6 170.4,43.9 174.9,42.2 179.4,44.0 183.3,45.5 187.2,44.6 191.0,45.8 193.6,47.0 191.7,49.0 191.7,51.0 187.2,51.8 183.3,52.5 179.4,53.7 175.5,56.1 171.7,58.7 169.1,61.3 165.2,64.0 161.4,67.9 158.8,71.1 162.6,73.1 166.5,75.0 169.7,77.6 171.7,80.8 173.6,84.7 175.5,88.5 178.1,92.4 180.7,96.3 182.6,99.5 184.9,101.6 182.3,102.5 179.7,104.4 176.5,106.8 173.3,109.4 170.7,110.6 168.1,109.4 165.5,108.3 163.0,108.1 161.7,109.4 159.7,113.2 157.8,115.8 155.9,118.4 154.6,121.6 151.4,123.5 147.5,124.2 143.8,122.2 139.2,119.8 135.9,118.1 132.7,119.2 129.5,120.3 126.3,120.8 123.0,121.9 119.8,123.5 115.5,125.1 111.2,126.2 108.0,127.3 105.8,126.2 104.8,123.0 104.7,121.2 101.5,120.2 97.6,121.6 93.8,122.6 89.9,122.3 86.0,120.3 82.2,118.4 79.5,119.1 75.8,120.2 72.6,120.8 68.7,121.2 64.8,122.7 61.6,125.5 58.5,123.0 55.5,120.2 54.6,117.0 54.5,114.9 57.7,113.6 62.3,113.6 67.6,111.6 70.6,109.6 70.2,106.8 67.6,104.0 66.0,101.0 65.2,98.7 65.8,95.2 69.4,93.5 69.4,90.8 66.5,88.2 62.3,87.9 58.0,86.5 55.2,84.6 52.6,82.8 46.0,83.2 40.5,83.4 37.1,82.6 35.2,80.0 35.8,76.8 35.2,74.2 34.8,71.8 36.2,69.7 41.0,69.2 47.0,68.4 54.0,67.2 61.0,66.6 67.6,66.8 71.9,71.6 72.3,73.5"/>
<polyline points="72.3,73.5 73.0,69.7 74.3,65.8 73.6,61.9 73.6,56.8 74.3,52.3 78.8,51.0 83.9,51.0 87.8,52.3 91.0,54.8 94.3,57.4 96.8,60.0 99.4,61.3 103.3,61.3 100.7,63.9 96.8,65.8 93.0,67.1 87.8,68.4 82.6,71.0 77.5,72.9 72.3,73.5"/>
<polyline points="72.3,73.5 73.6,77.4 75.5,81.3 77.5,84.5 79.7,87.7 81.6,89.6 85.5,93.4"/>
<polyline points="66.5,88.2 70.0,87.9 73.9,88.0 79.0,87.6 81.6,89.6"/>
<polyline points="85.5,93.4 89.9,93.9 96.4,94.5 102.8,95.2 106.7,97.1 109.3,99.7 113.1,101.6 117.0,103.5 120.9,105.5 124.1,106.8 126.8,108.4 128.4,109.8 127.6,112.6 127.1,115.0 128.0,117.6 129.5,120.3"/>
<polyline points="163.0,108.1 159.7,106.1 156.5,104.2 155.2,101.6 153.9,97.7 151.4,93.9"/>
</g></g>
<text class="ti" x="33.5" y="39.8">Jointing</text>
<text class="lt" x="217.4" y="31.6" text-anchor="end">(d)</text>
<rect x="189.1" y="92" width="7.8" height="35.8" fill="url(#cb)"/>
<text class="cb" x="188.9" y="85.6">CRT</text>
<text class="cb" x="198.9" y="96.2">0.70</text>
<text class="cb" x="198.9" y="131.8">0.44</text>
</g>
<g transform="translate(0,270.3)">
<text class="ax" x="70.2" y="15" text-anchor="middle">110°E</text>
<text class="ax" x="119.2" y="15" text-anchor="middle">115°E</text>
<text class="ax" x="168.0" y="15" text-anchor="middle">120°E</text>
<text class="ax" x="216.6" y="15" text-anchor="middle">125°E</text>
<text class="ax" x="27.6" y="24.8" text-anchor="end">40°N</text>
<text class="ax" x="27.6" y="74.0" text-anchor="end">35°N</text>
<text class="ax" x="27.6" y="123.0" text-anchor="end">30°N</text>
<g class="map">
<g clip-path="url(#clipO)"><g filter="url(#soft)">
<rect x="120" y="22" width="6" height="6" fill="#f4e23c" fill-opacity="0.36"/>
<rect x="114" y="28" width="6" height="6" fill="#f4e23c" fill-opacity="0.36"/>
<rect x="120" y="28" width="6" height="6" fill="#f4e23c" fill-opacity="0.88"/>
<rect x="126" y="28" width="6" height="6" fill="#c8e05a" fill-opacity="0.36"/>
<rect x="108" y="34" width="6" height="6" fill="#f4e23c" fill-opacity="0.36"/>
<rect x="114" y="34" width="6" height="6" fill="#f4e23c" fill-opacity="0.88"/>
<rect x="120" y="34" width="6" height="6" fill="#f4e23c" fill-opacity="0.36"/>
<rect x="126" y="34" width="6" height="6" fill="#f4e23c" fill-opacity="0.36"/>
<rect x="108" y="40" width="6" height="6" fill="#f4e23c" fill-opacity="0.36"/>
<rect x="114" y="40" width="6" height="6" fill="#f4e23c" fill-opacity="0.88"/>
<rect x="120" y="40" width="6" height="6" fill="#1a8cd0" fill-opacity="0.36"/>
<rect x="126" y="40" width="6" height="6" fill="#f5a02e" fill-opacity="0.36"/>
<rect x="132" y="40" width="6" height="6" fill="#f4e23c" fill-opacity="0.36"/>
<rect x="138" y="40" width="6" height="6" fill="#f4e23c" fill-opacity="0.36"/>
<rect x="108" y="46" width="6" height="6" fill="#f4e23c" fill-opacity="0.36"/>
<rect x="114" y="46" width="6" height="6" fill="#f5a02e" fill-opacity="0.88"/>
<rect x="120" y="46" width="6" height="6" fill="#c8e05a" fill-opacity="0.88"/>
<rect x="126" y="46" width="6" height="6" fill="#f4e23c" fill-opacity="0.88"/>
<rect x="132" y="46" width="6" height="6" fill="#f4e23c" fill-opacity="0.88"/>
<rect x="144" y="46" width="6" height="6" fill="#f5a02e" fill-opacity="0.36"/>
<rect x="150" y="46" width="6" height="6" fill="#f5a02e" fill-opacity="0.36"/>
<rect x="168" y="46" width="6" height="6" fill="#e8361e" fill-opacity="0.36"/>
<rect x="114" y="52" width="6" height="6" fill="#c8e05a" fill-opacity="0.88"/>
<rect x="120" y="52" width="6" height="6" fill="#2eaaa8" fill-opacity="0.88"/>
<rect x="126" y="52" width="6" height="6" fill="#c8e05a" fill-opacity="0.88"/>
<rect x="132" y="52" width="6" height="6" fill="#f4e23c" fill-opacity="0.36"/>
<rect x="138" y="52" width="6" height="6" fill="#f5a02e" fill-opacity="0.88"/>
<rect x="144" y="52" width="6" height="6" fill="#f5a02e" fill-opacity="0.88"/>
<rect x="150" y="52" width="6" height="6" fill="#f5a02e" fill-opacity="0.36"/>
<rect x="156" y="52" width="6" height="6" fill="#f5a02e" fill-opacity="0.36"/>
<rect x="162" y="52" width="6" height="6" fill="#f5a02e" fill-opacity="0.36"/>
<rect x="168" y="52" width="6" height="6" fill="#e8361e" fill-opacity="0.88"/>
<rect x="108" y="58" width="6" height="6" fill="#f5a02e" fill-opacity="0.36"/>
<rect x="114" y="58" width="6" height="6" fill="#2eaaa8" fill-opacity="0.88"/>
<rect x="120" y="58" width="6" height="6" fill="#1a8cd0" fill-opacity="0.88"/>
<rect x="126" y="58" width="6" height="6" fill="#f4e23c" fill-opacity="0.88"/>
<rect x="132" y="58" width="6" height="6" fill="#f5a02e" fill-opacity="0.36"/>
<rect x="144" y="58" width="6" height="6" fill="#f5a02e" fill-opacity="0.36"/>
<rect x="156" y="58" width="6" height="6" fill="#f5a02e" fill-opacity="0.36"/>
<rect x="162" y="58" width="6" height="6" fill="#f5a02e" fill-opacity="0.88"/>
<rect x="102" y="64" width="6" height="6" fill="#f5a02e" fill-opacity="0.36"/>
<rect x="108" y="64" width="6" height="6" fill="#f5a02e" fill-opacity="0.88"/>
<rect x="114" y="64" width="6" height="6" fill="#1a8cd0" fill-opacity="0.88"/>
<rect x="120" y="64" width="6" height="6" fill="#1a8cd0" fill-opacity="0.88"/>
<rect x="126" y="64" width="6" height="6" fill="#f4e23c" fill-opacity="0.88"/>
<rect x="132" y="64" width="6" height="6" fill="#f5a02e" fill-opacity="0.88"/>
<rect x="138" y="64" width="6" height="6" fill="#f5a02e" fill-opacity="0.36"/>
<rect x="150" y="64" width="6" height="6" fill="#e8361e" fill-opacity="0.36"/>
<rect x="156" y="64" width="6" height="6" fill="#f5a02e" fill-opacity="0.36"/>
<rect x="90" y="70" width="6" height="6" fill="#f5a02e" fill-opacity="0.36"/>
<rect x="96" y="70" width="6" height="6" fill="#f5a02e" fill-opacity="0.88"/>
<rect x="102" y="70" width="6" height="6" fill="#f4e23c" fill-opacity="0.88"/>
<rect x="108" y="70" width="6" height="6" fill="#f5a02e" fill-opacity="0.88"/>
<rect x="114" y="70" width="6" height="6" fill="#2eaaa8" fill-opacity="0.88"/>
<rect x="120" y="70" width="6" height="6" fill="#1a8cd0" fill-opacity="0.88"/>
<rect x="126" y="70" width="6" height="6" fill="#f4e23c" fill-opacity="0.88"/>
<rect x="132" y="70" width="6" height="6" fill="#f5a02e" fill-opacity="0.88"/>
<rect x="138" y="70" width="6" height="6" fill="#f5a02e" fill-opacity="0.36"/>
<rect x="150" y="70" width="6" height="6" fill="#e8361e" fill-opacity="0.88"/>
<rect x="156" y="70" width="6" height="6" fill="#f5a02e" fill-opacity="0.36"/>
<rect x="90" y="76" width="6" height="6" fill="#f5a02e" fill-opacity="0.36"/>
<rect x="96" y="76" width="6" height="6" fill="#f5a02e" fill-opacity="0.88"/>
<rect x="102" y="76" width="6" height="6" fill="#e8361e" fill-opacity="0.88"/>
<rect x="108" y="76" width="6" height="6" fill="#f5a02e" fill-opacity="0.88"/>
<rect x="114" y="76" width="6" height="6" fill="#2eaaa8" fill-opacity="0.88"/>
<rect x="120" y="76" width="6" height="6" fill="#f4e23c" fill-opacity="0.88"/>
<rect x="126" y="76" width="6" height="6" fill="#c8e05a" fill-opacity="0.88"/>
<rect x="132" y="76" width="6" height="6" fill="#f4e23c" fill-opacity="0.88"/>
<rect x="138" y="76" width="6" height="6" fill="#f4e23c" fill-opacity="0.88"/>
<rect x="144" y="76" width="6" height="6" fill="#c8e05a" fill-opacity="0.88"/>
<rect x="150" y="76" width="6" height="6" fill="#2eaaa8" fill-opacity="0.88"/>
<rect x="156" y="76" width="6" height="6" fill="#c8e05a" fill-opacity="0.88"/>
<rect x="162" y="76" width="6" height="6" fill="#c8e05a" fill-opacity="0.88"/>
<rect x="96" y="82" width="6" height="6" fill="#f5a02e" fill-opacity="0.36"/>
<rect x="102" y="82" width="6" height="6" fill="#f5a02e" fill-opacity="0.88"/>
<rect x="108" y="82" width="6" height="6" fill="#f4e23c" fill-opacity="0.88"/>
<rect x="114" y="82" width="6" height="6" fill="#f5a02e" fill-opacity="0.88"/>
<rect x="120" y="82" width="6" height="6" fill="#c8e05a" fill-opacity="0.88"/>
<rect x="126" y="82" width="6" height="6" fill="#2eaaa8" fill-opacity="0.88"/>
<rect x="132" y="82" width="6" height="6" fill="#f5a02e" fill-opacity="0.88"/>
<rect x="138" y="82" width="6" height="6" fill="#c8e05a" fill-opacity="0.88"/>
<rect x="144" y="82" width="6" height="6" fill="#f4e23c" fill-opacity="0.88"/>
<rect x="150" y="82" width="6" height="6" fill="#2eaaa8" fill-opacity="0.88"/>
<rect x="156" y="82" width="6" height="6" fill="#c8e05a" fill-opacity="0.88"/>
<rect x="162" y="82" width="6" height="6" fill="#c8e05a" fill-opacity="0.36"/>
<rect x="168" y="82" width="6" height="6" fill="#f5a02e" fill-opacity="0.36"/>
<rect x="84" y="88" width="6" height="6" fill="#c8e05a" fill-opacity="0.36"/>
<rect x="90" y="88" width="6" height="6" fill="#2eaaa8" fill-opacity="0.88"/>
<rect x="96" y="88" width="6" height="6" fill="#1a8cd0" fill-opacity="0.88"/>
<rect x="102" y="88" width="6" height="6" fill="#f4e23c" fill-opacity="0.88"/>
<rect x="108" y="88" width="6" height="6" fill="#f5a02e" fill-opacity="0.88"/>
<rect x="114" y="88" width="6" height="6" fill="#f4e23c" fill-opacity="0.88"/>
<rect x="120" y="88" width="6" height="6" fill="#f4e23c" fill-opacity="0.88"/>
<rect x="126" y="88" width="6" height="6" fill="#2eaaa8" fill-opacity="0.88"/>
<rect x="132" y="88" width="6" height="6" fill="#c8e05a" fill-opacity="0.88"/>
<rect x="138" y="88" width="6" height="6" fill="#2eaaa8" fill-opacity="0.88"/>
<rect x="144" y="88" width="6" height="6" fill="#c8e05a" fill-opacity="0.88"/>
<rect x="150" y="88" width="6" height="6" fill="#c8e05a" fill-opacity="0.36"/>
<rect x="156" y="88" width="6" height="6" fill="#2eaaa8" fill-opacity="0.88"/>
<rect x="162" y="88" width="6" height="6" fill="#f5a02e" fill-opacity="0.88"/>
<rect x="168" y="88" width="6" height="6" fill="#c8e05a" fill-opacity="0.36"/>
<rect x="84" y="94" width="6" height="6" fill="#f5a02e" fill-opacity="0.88"/>
<rect x="90" y="94" width="6" height="6" fill="#f5a02e" fill-opacity="0.88"/>
<rect x="96" y="94" width="6" height="6" fill="#f4e23c" fill-opacity="0.36"/>
<rect x="108" y="94" width="6" height="6" fill="#f5a02e" fill-opacity="0.36"/>
<rect x="114" y="94" width="6" height="6" fill="#f5a02e" fill-opacity="0.88"/>
<rect x="120" y="94" width="6" height="6" fill="#f4e23c" fill-opacity="0.88"/>
<rect x="126" y="94" width="6" height="6" fill="#c8e05a" fill-opacity="0.88"/>
<rect x="132" y="94" width="6" height="6" fill="#f5a02e" fill-opacity="0.88"/>
<rect x="138" y="94" width="6" height="6" fill="#c8e05a" fill-opacity="0.36"/>
<rect x="144" y="94" width="6" height="6" fill="#c8e05a" fill-opacity="0.88"/>
<rect x="150" y="94" width="6" height="6" fill="#c8e05a" fill-opacity="0.36"/>
<rect x="156" y="94" width="6" height="6" fill="#c8e05a" fill-opacity="0.36"/>
<rect x="162" y="94" width="6" height="6" fill="#f5a02e" fill-opacity="0.88"/>
<rect x="168" y="94" width="6" height="6" fill="#c8e05a" fill-opacity="0.88"/>
<rect x="174" y="94" width="6" height="6" fill="#c8e05a" fill-opacity="0.36"/>
<rect x="84" y="100" width="6" height="6" fill="#f5a02e" fill-opacity="0.36"/>
<rect x="90" y="100" width="6" height="6" fill="#f5a02e" fill-opacity="0.36"/>
<rect x="132" y="100" width="6" height="6" fill="#f5a02e" fill-opacity="0.36"/>
<rect x="144" y="100" width="6" height="6" fill="#f5a02e" fill-opacity="0.36"/>
<rect x="150" y="100" width="6" height="6" fill="#f5a02e" fill-opacity="0.36"/>
<rect x="162" y="100" width="6" height="6" fill="#c8e05a" fill-opacity="0.36"/>
<rect x="168" y="100" width="6" height="6" fill="#c8e05a" fill-opacity="0.36"/>
<rect x="174" y="100" width="6" height="6" fill="#c8e05a" fill-opacity="0.36"/>
<rect x="90" y="106" width="6" height="6" fill="#f5a02e" fill-opacity="0.36"/>
<rect x="96" y="106" width="6" height="6" fill="#f5a02e" fill-opacity="0.36"/>
<rect x="102" y="106" width="6" height="6" fill="#f5a02e" fill-opacity="0.36"/>
<rect x="144" y="106" width="6" height="6" fill="#f5a02e" fill-opacity="0.36"/>
<rect x="150" y="106" width="6" height="6" fill="#f5a02e" fill-opacity="0.36"/>
<rect x="156" y="106" width="6" height="6" fill="#f5a02e" fill-opacity="0.36"/>
<rect x="84" y="112" width="6" height="6" fill="#e8361e" fill-opacity="0.88"/>
<rect x="90" y="112" width="6" height="6" fill="#e8361e" fill-opacity="0.88"/>
<rect x="96" y="112" width="6" height="6" fill="#f5a02e" fill-opacity="0.36"/>
<rect x="102" y="112" width="6" height="6" fill="#f5a02e" fill-opacity="0.36"/>
<rect x="84" y="118" width="6" height="6" fill="#f5a02e" fill-opacity="0.36"/>
<rect x="90" y="118" width="6" height="6" fill="#f4e23c" fill-opacity="0.36"/>
<rect x="96" y="118" width="6" height="6" fill="#f5a02e" fill-opacity="0.88"/>
<rect x="102" y="118" width="6" height="6" fill="#f5a02e" fill-opacity="0.36"/>
</g><g filter="url(#soft2)">
<polygon points="41,76.4 46,75.4 51,74.4 52,78 46,79 41.5,78.6" fill="#e8361e" fill-opacity="1.00"/>
<polygon points="51,74.4 57,73.4 58,77.4 52,78" fill="#f5a02e" fill-opacity="1.00"/>
<polygon points="57,73.4 62,72 67,71.2 67.6,73.2 64,76.2 58,77.4" fill="#c8e05a" fill-opacity="1.00"/>
<polygon points="50,78.6 56,77.4 61,77.6 57,80 51,80.4" fill="#c8e05a" fill-opacity="0.75"/>
</g></g>
<g class="bnd">
<polyline points="141.0,38.5 136.0,40.0 132.5,42.2 128.2,46.5 123.9,51.8 121.7,55.1 120.5,58.5 119.6,61.5 117.4,66.9 116.4,70.1"/>
<polyline points="103.5,56.5 109.9,57.6 114.2,58.3 118.5,59.4 120.5,58.5"/>
<polyline points="116.4,70.1 121.7,71.2 127.1,74.4 131.4,76.6 135.7,79.8"/>
<polyline points="135.7,79.8 138.0,77.0 142.1,74.5 145.3,75.0 148.6,73.4 152.9,71.8 158.8,71.1"/>
<polyline points="135.7,79.8 132.0,85.0 128.0,90.0 125.0,95.0 124.7,100.0 124.7,108.1"/>
<polyline points="103.3,61.3 103.9,59.4 105.2,55.5 106.5,50.3 107.8,45.2 106.8,41.5 104.5,37.6 105.0,34.4 107.0,31.1 111.2,28.3 116.5,25.6 122.2,22.8 124.0,25.0 127.4,26.0 130.0,27.3 131.3,30.5 133.0,33.5 135.2,35.2 139.5,36.2 144.0,37.6 147.2,38.7 152.3,39.6 157.5,40.8 159.4,43.6 157.0,47.1 161.4,49.2 166.5,46.6 170.4,43.9 174.9,42.2 179.4,44.0 183.3,45.5 187.2,44.6 191.0,45.8 193.6,47.0 191.7,49.0 191.7,51.0 187.2,51.8 183.3,52.5 179.4,53.7 175.5,56.1 171.7,58.7 169.1,61.3 165.2,64.0 161.4,67.9 158.8,71.1 162.6,73.1 166.5,75.0 169.7,77.6 171.7,80.8 173.6,84.7 175.5,88.5 178.1,92.4 180.7,96.3 182.6,99.5 184.9,101.6 182.3,102.5 179.7,104.4 176.5,106.8 173.3,109.4 170.7,110.6 168.1,109.4 165.5,108.3 163.0,108.1 161.7,109.4 159.7,113.2 157.8,115.8 155.9,118.4 154.6,121.6 151.4,123.5 147.5,124.2 143.8,122.2 139.2,119.8 135.9,118.1 132.7,119.2 129.5,120.3 126.3,120.8 123.0,121.9 119.8,123.5 115.5,125.1 111.2,126.2 108.0,127.3 105.8,126.2 104.8,123.0 104.7,121.2 101.5,120.2 97.6,121.6 93.8,122.6 89.9,122.3 86.0,120.3 82.2,118.4 79.5,119.1 75.8,120.2 72.6,120.8 68.7,121.2 64.8,122.7 61.6,125.5 58.5,123.0 55.5,120.2 54.6,117.0 54.5,114.9 57.7,113.6 62.3,113.6 67.6,111.6 70.6,109.6 70.2,106.8 67.6,104.0 66.0,101.0 65.2,98.7 65.8,95.2 69.4,93.5 69.4,90.8 66.5,88.2 62.3,87.9 58.0,86.5 55.2,84.6 52.6,82.8 46.0,83.2 40.5,83.4 37.1,82.6 35.2,80.0 35.8,76.8 35.2,74.2 34.8,71.8 36.2,69.7 41.0,69.2 47.0,68.4 54.0,67.2 61.0,66.6 67.6,66.8 71.9,71.6 72.3,73.5"/>
<polyline points="72.3,73.5 73.0,69.7 74.3,65.8 73.6,61.9 73.6,56.8 74.3,52.3 78.8,51.0 83.9,51.0 87.8,52.3 91.0,54.8 94.3,57.4 96.8,60.0 99.4,61.3 103.3,61.3 100.7,63.9 96.8,65.8 93.0,67.1 87.8,68.4 82.6,71.0 77.5,72.9 72.3,73.5"/>
<polyline points="72.3,73.5 73.6,77.4 75.5,81.3 77.5,84.5 79.7,87.7 81.6,89.6 85.5,93.4"/>
<polyline points="66.5,88.2 70.0,87.9 73.9,88.0 79.0,87.6 81.6,89.6"/>
<polyline points="85.5,93.4 89.9,93.9 96.4,94.5 102.8,95.2 106.7,97.1 109.3,99.7 113.1,101.6 117.0,103.5 120.9,105.5 124.1,106.8 126.8,108.4 128.4,109.8 127.6,112.6 127.1,115.0 128.0,117.6 129.5,120.3"/>
<polyline points="163.0,108.1 159.7,106.1 156.5,104.2 155.2,101.6 153.9,97.7 151.4,93.9"/>
</g></g>
<text class="ti" x="37.2" y="36.7">Heading</text>
<text class="lt" x="217.4" y="31.6" text-anchor="end">(e)</text>
<rect x="188.4" y="92" width="7.8" height="35.8" fill="url(#cb)"/>
<text class="cb" x="188.2" y="85.6">CRT</text>
<text class="cb" x="198.2" y="96.2">0.82</text>
<text class="cb" x="198.2" y="131.8">0.63</text>
</g>
<g transform="translate(228,270.5)">
<text class="ax" x="70.2" y="15" text-anchor="middle">110°E</text>
<text class="ax" x="119.2" y="15" text-anchor="middle">115°E</text>
<text class="ax" x="168.0" y="15" text-anchor="middle">120°E</text>
<text class="ax" x="216.6" y="15" text-anchor="middle">125°E</text>
<text class="ax" x="27.6" y="24.8" text-anchor="end">40°N</text>
<text class="ax" x="27.6" y="74.0" text-anchor="end">35°N</text>
<text class="ax" x="27.6" y="123.0" text-anchor="end">30°N</text>
<g class="map">
<g clip-path="url(#clipO)"><g filter="url(#soft)">
<rect x="114" y="28" width="6" height="6" fill="#c8e05a" fill-opacity="0.36"/>
<rect x="120" y="28" width="6" height="6" fill="#86c286" fill-opacity="0.88"/>
<rect x="126" y="28" width="6" height="6" fill="#c8e05a" fill-opacity="0.36"/>
<rect x="108" y="34" width="6" height="6" fill="#c8e05a" fill-opacity="0.36"/>
<rect x="114" y="34" width="6" height="6" fill="#c8e05a" fill-opacity="0.88"/>
<rect x="120" y="34" width="6" height="6" fill="#c8e05a" fill-opacity="0.36"/>
<rect x="126" y="34" width="6" height="6" fill="#c8e05a" fill-opacity="0.36"/>
<rect x="108" y="40" width="6" height="6" fill="#c8e05a" fill-opacity="0.36"/>
<rect x="114" y="40" width="6" height="6" fill="#c8e05a" fill-opacity="0.88"/>
<rect x="120" y="40" width="6" height="6" fill="#1a8cd0" fill-opacity="0.36"/>
<rect x="126" y="40" width="6" height="6" fill="#f5a02e" fill-opacity="0.36"/>
<rect x="132" y="40" width="6" height="6" fill="#f4e23c" fill-opacity="0.36"/>
<rect x="108" y="46" width="6" height="6" fill="#c8e05a" fill-opacity="0.36"/>
<rect x="114" y="46" width="6" height="6" fill="#c8e05a" fill-opacity="0.88"/>
<rect x="120" y="46" width="6" height="6" fill="#86c286" fill-opacity="0.88"/>
<rect x="126" y="46" width="6" height="6" fill="#c8e05a" fill-opacity="0.88"/>
<rect x="132" y="46" width="6" height="6" fill="#c8e05a" fill-opacity="0.88"/>
<rect x="138" y="46" width="6" height="6" fill="#f5a02e" fill-opacity="0.36"/>
<rect x="144" y="46" width="6" height="6" fill="#f5a02e" fill-opacity="0.36"/>
<rect x="150" y="46" width="6" height="6" fill="#f5a02e" fill-opacity="0.36"/>
<rect x="162" y="46" width="6" height="6" fill="#f5a02e" fill-opacity="0.36"/>
<rect x="168" y="46" width="6" height="6" fill="#f5a02e" fill-opacity="0.36"/>
<rect x="114" y="52" width="6" height="6" fill="#86c286" fill-opacity="0.88"/>
<rect x="120" y="52" width="6" height="6" fill="#2eaaa8" fill-opacity="0.88"/>
<rect x="126" y="52" width="6" height="6" fill="#c8e05a" fill-opacity="0.88"/>
<rect x="132" y="52" width="6" height="6" fill="#c8e05a" fill-opacity="0.36"/>
<rect x="138" y="52" width="6" height="6" fill="#f5a02e" fill-opacity="0.36"/>
<rect x="144" y="52" width="6" height="6" fill="#f5a02e" fill-opacity="0.88"/>
<rect x="150" y="52" width="6" height="6" fill="#f5a02e" fill-opacity="0.36"/>
<rect x="162" y="52" width="6" height="6" fill="#f5a02e" fill-opacity="0.88"/>
<rect x="168" y="52" width="6" height="6" fill="#e8361e" fill-opacity="0.88"/>
<rect x="108" y="58" width="6" height="6" fill="#f4e23c" fill-opacity="0.36"/>
<rect x="114" y="58" width="6" height="6" fill="#2eaaa8" fill-opacity="0.88"/>
<rect x="120" y="58" width="6" height="6" fill="#1a8cd0" fill-opacity="0.88"/>
<rect x="126" y="58" width="6" height="6" fill="#c8e05a" fill-opacity="0.88"/>
<rect x="132" y="58" width="6" height="6" fill="#c8e05a" fill-opacity="0.36"/>
<rect x="138" y="58" width="6" height="6" fill="#f5a02e" fill-opacity="0.36"/>
<rect x="144" y="58" width="6" height="6" fill="#f5a02e" fill-opacity="0.36"/>
<rect x="162" y="58" width="6" height="6" fill="#f5a02e" fill-opacity="0.36"/>
<rect x="102" y="64" width="6" height="6" fill="#f4e23c" fill-opacity="0.36"/>
<rect x="108" y="64" width="6" height="6" fill="#c8e05a" fill-opacity="0.88"/>
<rect x="114" y="64" width="6" height="6" fill="#1a8cd0" fill-opacity="0.88"/>
<rect x="120" y="64" width="6" height="6" fill="#1a8cd0" fill-opacity="0.88"/>
<rect x="126" y="64" width="6" height="6" fill="#f4e23c" fill-opacity="0.88"/>
<rect x="132" y="64" width="6" height="6" fill="#f4e23c" fill-opacity="0.36"/>
<rect x="138" y="64" width="6" height="6" fill="#f5a02e" fill-opacity="0.36"/>
<rect x="150" y="64" width="6" height="6" fill="#f5a02e" fill-opacity="0.36"/>
<rect x="90" y="70" width="6" height="6" fill="#f4e23c" fill-opacity="0.36"/>
<rect x="96" y="70" width="6" height="6" fill="#f4e23c" fill-opacity="0.36"/>
<rect x="102" y="70" width="6" height="6" fill="#f5a02e" fill-opacity="0.88"/>
<rect x="108" y="70" width="6" height="6" fill="#c8e05a" fill-opacity="0.88"/>
<rect x="114" y="70" width="6" height="6" fill="#2eaaa8" fill-opacity="0.88"/>
<rect x="120" y="70" width="6" height="6" fill="#1a8cd0" fill-opacity="0.88"/>
<rect x="126" y="70" width="6" height="6" fill="#f4e23c" fill-opacity="0.88"/>
<rect x="132" y="70" width="6" height="6" fill="#f5a02e" fill-opacity="0.88"/>
<rect x="138" y="70" width="6" height="6" fill="#f5a02e" fill-opacity="0.36"/>
<rect x="150" y="70" width="6" height="6" fill="#e8361e" fill-opacity="0.88"/>
<rect x="156" y="70" width="6" height="6" fill="#f5a02e" fill-opacity="0.36"/>
<rect x="90" y="76" width="6" height="6" fill="#f4e23c" fill-opacity="0.36"/>
<rect x="96" y="76" width="6" height="6" fill="#f4e23c" fill-opacity="0.88"/>
<rect x="102" y="76" width="6" height="6" fill="#e8361e" fill-opacity="0.88"/>
<rect x="108" y="76" width="6" height="6" fill="#f4e23c" fill-opacity="0.88"/>
<rect x="114" y="76" width="6" height="6" fill="#2eaaa8" fill-opacity="0.88"/>
<rect x="120" y="76" width="6" height="6" fill="#86c286" fill-opacity="0.88"/>
<rect x="126" y="76" width="6" height="6" fill="#c8e05a" fill-opacity="0.88"/>
<rect x="132" y="76" width="6" height="6" fill="#2eaaa8" fill-opacity="0.88"/>
<rect x="138" y="76" width="6" height="6" fill="#c8e05a" fill-opacity="0.88"/>
<rect x="144" y="76" width="6" height="6" fill="#c8e05a" fill-opacity="0.88"/>
<rect x="150" y="76" width="6" height="6" fill="#c8e05a" fill-opacity="0.36"/>
<rect x="156" y="76" width="6" height="6" fill="#c8e05a" fill-opacity="0.88"/>
<rect x="162" y="76" width="6" height="6" fill="#c8e05a" fill-opacity="0.36"/>
<rect x="96" y="82" width="6" height="6" fill="#f4e23c" fill-opacity="0.36"/>
<rect x="102" y="82" width="6" height="6" fill="#f4e23c" fill-opacity="0.88"/>
<rect x="108" y="82" width="6" height="6" fill="#f4e23c" fill-opacity="0.88"/>
<rect x="114" y="82" width="6" height="6" fill="#f4e23c" fill-opacity="0.88"/>
<rect x="120" y="82" width="6" height="6" fill="#c8e05a" fill-opacity="0.88"/>
<rect x="126" y="82" width="6" height="6" fill="#f4e23c" fill-opacity="0.88"/>
<rect x="132" y="82" width="6" height="6" fill="#c8e05a" fill-opacity="0.88"/>
<rect x="138" y="82" width="6" height="6" fill="#c8e05a" fill-opacity="0.88"/>
<rect x="144" y="82" width="6" height="6" fill="#2eaaa8" fill-opacity="0.88"/>
<rect x="150" y="82" width="6" height="6" fill="#c8e05a" fill-opacity="0.36"/>
<rect x="162" y="82" width="6" height="6" fill="#f5a02e" fill-opacity="0.88"/>
<rect x="168" y="82" width="6" height="6" fill="#f5a02e" fill-opacity="0.36"/>
<rect x="84" y="88" width="6" height="6" fill="#c8e05a" fill-opacity="0.36"/>
<rect x="90" y="88" width="6" height="6" fill="#86c286" fill-opacity="0.88"/>
<rect x="96" y="88" width="6" height="6" fill="#2eaaa8" fill-opacity="0.88"/>
<rect x="102" y="88" width="6" height="6" fill="#c8e05a" fill-opacity="0.88"/>
<rect x="108" y="88" width="6" height="6" fill="#f4e23c" fill-opacity="0.88"/>
<rect x="114" y="88" width="6" height="6" fill="#f4e23c" fill-opacity="0.88"/>
<rect x="120" y="88" width="6" height="6" fill="#86c286" fill-opacity="0.88"/>
<rect x="126" y="88" width="6" height="6" fill="#c8e05a" fill-opacity="0.88"/>
<rect x="132" y="88" width="6" height="6" fill="#f4e23c" fill-opacity="0.88"/>
<rect x="138" y="88" width="6" height="6" fill="#c8e05a" fill-opacity="0.88"/>
<rect x="144" y="88" width="6" height="6" fill="#c8e05a" fill-opacity="0.36"/>
<rect x="150" y="88" width="6" height="6" fill="#c8e05a" fill-opacity="0.36"/>
<rect x="156" y="88" width="6" height="6" fill="#f5a02e" fill-opacity="0.88"/>
<rect x="162" y="88" width="6" height="6" fill="#f5a02e" fill-opacity="0.88"/>
<rect x="168" y="88" width="6" height="6" fill="#f5a02e" fill-opacity="0.36"/>
<rect x="84" y="94" width="6" height="6" fill="#f5a02e" fill-opacity="0.88"/>
<rect x="90" y="94" width="6" height="6" fill="#f5a02e" fill-opacity="0.88"/>
<rect x="96" y="94" width="6" height="6" fill="#f4e23c" fill-opacity="0.36"/>
<rect x="108" y="94" width="6" height="6" fill="#f5a02e" fill-opacity="0.36"/>
<rect x="114" y="94" width="6" height="6" fill="#f5a02e" fill-opacity="0.88"/>
<rect x="120" y="94" width="6" height="6" fill="#c8e05a" fill-opacity="0.36"/>
<rect x="126" y="94" width="6" height="6" fill="#c8e05a" fill-opacity="0.88"/>
<rect x="132" y="94" width="6" height="6" fill="#e8361e" fill-opacity="0.88"/>
<rect x="138" y="94" width="6" height="6" fill="#c8e05a" fill-opacity="0.36"/>
<rect x="144" y="94" width="6" height="6" fill="#f5a02e" fill-opacity="0.36"/>
<rect x="156" y="94" width="6" height="6" fill="#f5a02e" fill-opacity="0.36"/>
<rect x="162" y="94" width="6" height="6" fill="#c8e05a" fill-opacity="0.36"/>
<rect x="168" y="94" width="6" height="6" fill="#c8e05a" fill-opacity="0.88"/>
<rect x="174" y="94" width="6" height="6" fill="#c8e05a" fill-opacity="0.36"/>
<rect x="84" y="100" width="6" height="6" fill="#f5a02e" fill-opacity="0.36"/>
<rect x="90" y="100" width="6" height="6" fill="#f5a02e" fill-opacity="0.36"/>
<rect x="132" y="100" width="6" height="6" fill="#e8361e" fill-opacity="0.88"/>
<rect x="144" y="100" width="6" height="6" fill="#f5a02e" fill-opacity="0.36"/>
<rect x="150" y="100" width="6" height="6" fill="#f5a02e" fill-opacity="0.36"/>
<rect x="174" y="100" width="6" height="6" fill="#f5a02e" fill-opacity="0.36"/>
<rect x="90" y="106" width="6" height="6" fill="#f5a02e" fill-opacity="0.36"/>
<rect x="96" y="106" width="6" height="6" fill="#f5a02e" fill-opacity="0.36"/>
<rect x="102" y="106" width="6" height="6" fill="#e8361e" fill-opacity="0.36"/>
<rect x="150" y="106" width="6" height="6" fill="#f5a02e" fill-opacity="0.36"/>
<rect x="156" y="106" width="6" height="6" fill="#f5a02e" fill-opacity="0.88"/>
<rect x="84" y="112" width="6" height="6" fill="#e8361e" fill-opacity="0.88"/>
<rect x="90" y="112" width="6" height="6" fill="#e8361e" fill-opacity="0.88"/>
<rect x="96" y="112" width="6" height="6" fill="#f5a02e" fill-opacity="0.36"/>
<rect x="84" y="118" width="6" height="6" fill="#f4e23c" fill-opacity="0.36"/>
<rect x="90" y="118" width="6" height="6" fill="#f5a02e" fill-opacity="0.36"/>
<rect x="96" y="118" width="6" height="6" fill="#f5a02e" fill-opacity="0.36"/>
<rect x="102" y="118" width="6" height="6" fill="#f5a02e" fill-opacity="0.36"/>
</g><g filter="url(#soft2)">
<polygon points="41,76.4 46,75.4 51,74.4 52,78 46,79 41.5,78.6" fill="#c8e05a" fill-opacity="1.00"/>
<polygon points="51,74.4 57,73.4 58,77.4 52,78" fill="#2eaaa8" fill-opacity="1.00"/>
<polygon points="57,73.4 62,72 67,71.2 67.6,73.2 64,76.2 58,77.4" fill="#2eaaa8" fill-opacity="1.00"/>
<polygon points="50,78.6 56,77.4 61,77.6 57,80 51,80.4" fill="#86c286" fill-opacity="0.75"/>
<ellipse cx="64.5" cy="72.2" rx="2.6" ry="1.3" fill="#f4e03a" fill-opacity="0.90"/>
</g></g>
<g class="bnd">
<polyline points="141.0,38.5 136.0,40.0 132.5,42.2 128.2,46.5 123.9,51.8 121.7,55.1 120.5,58.5 119.6,61.5 117.4,66.9 116.4,70.1"/>
<polyline points="103.5,56.5 109.9,57.6 114.2,58.3 118.5,59.4 120.5,58.5"/>
<polyline points="116.4,70.1 121.7,71.2 127.1,74.4 131.4,76.6 135.7,79.8"/>
<polyline points="135.7,79.8 138.0,77.0 142.1,74.5 145.3,75.0 148.6,73.4 152.9,71.8 158.8,71.1"/>
<polyline points="135.7,79.8 132.0,85.0 128.0,90.0 125.0,95.0 124.7,100.0 124.7,108.1"/>
<polyline points="103.3,61.3 103.9,59.4 105.2,55.5 106.5,50.3 107.8,45.2 106.8,41.5 104.5,37.6 105.0,34.4 107.0,31.1 111.2,28.3 116.5,25.6 122.2,22.8 124.0,25.0 127.4,26.0 130.0,27.3 131.3,30.5 133.0,33.5 135.2,35.2 139.5,36.2 144.0,37.6 147.2,38.7 152.3,39.6 157.5,40.8 159.4,43.6 157.0,47.1 161.4,49.2 166.5,46.6 170.4,43.9 174.9,42.2 179.4,44.0 183.3,45.5 187.2,44.6 191.0,45.8 193.6,47.0 191.7,49.0 191.7,51.0 187.2,51.8 183.3,52.5 179.4,53.7 175.5,56.1 171.7,58.7 169.1,61.3 165.2,64.0 161.4,67.9 158.8,71.1 162.6,73.1 166.5,75.0 169.7,77.6 171.7,80.8 173.6,84.7 175.5,88.5 178.1,92.4 180.7,96.3 182.6,99.5 184.9,101.6 182.3,102.5 179.7,104.4 176.5,106.8 173.3,109.4 170.7,110.6 168.1,109.4 165.5,108.3 163.0,108.1 161.7,109.4 159.7,113.2 157.8,115.8 155.9,118.4 154.6,121.6 151.4,123.5 147.5,124.2 143.8,122.2 139.2,119.8 135.9,118.1 132.7,119.2 129.5,120.3 126.3,120.8 123.0,121.9 119.8,123.5 115.5,125.1 111.2,126.2 108.0,127.3 105.8,126.2 104.8,123.0 104.7,121.2 101.5,120.2 97.6,121.6 93.8,122.6 89.9,122.3 86.0,120.3 82.2,118.4 79.5,119.1 75.8,120.2 72.6,120.8 68.7,121.2 64.8,122.7 61.6,125.5 58.5,123.0 55.5,120.2 54.6,117.0 54.5,114.9 57.7,113.6 62.3,113.6 67.6,111.6 70.6,109.6 70.2,106.8 67.6,104.0 66.0,101.0 65.2,98.7 65.8,95.2 69.4,93.5 69.4,90.8 66.5,88.2 62.3,87.9 58.0,86.5 55.2,84.6 52.6,82.8 46.0,83.2 40.5,83.4 37.1,82.6 35.2,80.0 35.8,76.8 35.2,74.2 34.8,71.8 36.2,69.7 41.0,69.2 47.0,68.4 54.0,67.2 61.0,66.6 67.6,66.8 71.9,71.6 72.3,73.5"/>
<polyline points="72.3,73.5 73.0,69.7 74.3,65.8 73.6,61.9 73.6,56.8 74.3,52.3 78.8,51.0 83.9,51.0 87.8,52.3 91.0,54.8 94.3,57.4 96.8,60.0 99.4,61.3 103.3,61.3 100.7,63.9 96.8,65.8 93.0,67.1 87.8,68.4 82.6,71.0 77.5,72.9 72.3,73.5"/>
<polyline points="72.3,73.5 73.6,77.4 75.5,81.3 77.5,84.5 79.7,87.7 81.6,89.6 85.5,93.4"/>
<polyline points="66.5,88.2 70.0,87.9 73.9,88.0 79.0,87.6 81.6,89.6"/>
<polyline points="85.5,93.4 89.9,93.9 96.4,94.5 102.8,95.2 106.7,97.1 109.3,99.7 113.1,101.6 117.0,103.5 120.9,105.5 124.1,106.8 126.8,108.4 128.4,109.8 127.6,112.6 127.1,115.0 128.0,117.6 129.5,120.3"/>
<polyline points="163.0,108.1 159.7,106.1 156.5,104.2 155.2,101.6 153.9,97.7 151.4,93.9"/>
</g></g>
<text class="ti" x="36.5" y="35.8">Milky stage</text>
<text class="lt" x="217.4" y="31.6" text-anchor="end">(f)</text>
<rect x="189.1" y="92" width="7.8" height="35.8" fill="url(#cb)"/>
<text class="cb" x="188.9" y="85.6">CRT</text>
<text class="cb" x="198.9" y="96.2">0.97</text>
<text class="cb" x="198.9" y="131.8">0.84</text>
</g>
<g transform="translate(0,407)">
<text class="ax" x="70.2" y="15" text-anchor="middle">110°E</text>
<text class="ax" x="119.2" y="15" text-anchor="middle">115°E</text>
<text class="ax" x="168.0" y="15" text-anchor="middle">120°E</text>
<text class="ax" x="216.6" y="15" text-anchor="middle">125°E</text>
<text class="ax" x="27.6" y="24.8" text-anchor="end">40°N</text>
<text class="ax" x="27.6" y="74.0" text-anchor="end">35°N</text>
<text class="ax" x="27.6" y="123.0" text-anchor="end">30°N</text>
<g class="map">
<g clip-path="url(#clipO)"><g filter="url(#soft)">
<rect x="114" y="28" width="6" height="6" fill="#f4e23c" fill-opacity="0.36"/>
<rect x="120" y="28" width="6" height="6" fill="#f4e23c" fill-opacity="0.88"/>
<rect x="126" y="28" width="6" height="6" fill="#f5a02e" fill-opacity="0.36"/>
<rect x="108" y="34" width="6" height="6" fill="#f4e23c" fill-opacity="0.36"/>
<rect x="114" y="34" width="6" height="6" fill="#f4e23c" fill-opacity="0.88"/>
<rect x="120" y="34" width="6" height="6" fill="#f4e23c" fill-opacity="0.88"/>
<rect x="126" y="34" width="6" height="6" fill="#f4e23c" fill-opacity="0.36"/>
<rect x="108" y="40" width="6" height="6" fill="#f4e23c" fill-opacity="0.36"/>
<rect x="114" y="40" width="6" height="6" fill="#c8e05a" fill-opacity="0.88"/>
<rect x="120" y="40" width="6" height="6" fill="#c8e05a" fill-opacity="0.36"/>
<rect x="126" y="40" width="6" height="6" fill="#e8361e" fill-opacity="0.88"/>
<rect x="132" y="40" width="6" height="6" fill="#f4e23c" fill-opacity="0.36"/>
<rect x="108" y="46" width="6" height="6" fill="#f4e23c" fill-opacity="0.36"/>
<rect x="114" y="46" width="6" height="6" fill="#c8e05a" fill-opacity="0.88"/>
<rect x="120" y="46" width="6" height="6" fill="#86c286" fill-opacity="0.88"/>
<rect x="126" y="46" width="6" height="6" fill="#c8e05a" fill-opacity="0.88"/>
<rect x="132" y="46" width="6" height="6" fill="#f4e23c" fill-opacity="0.88"/>
<rect x="138" y="46" width="6" height="6" fill="#f5a02e" fill-opacity="0.36"/>
<rect x="144" y="46" width="6" height="6" fill="#e8361e" fill-opacity="0.88"/>
<rect x="150" y="46" width="6" height="6" fill="#f5a02e" fill-opacity="0.88"/>
<rect x="156" y="46" width="6" height="6" fill="#f5a02e" fill-opacity="0.36"/>
<rect x="162" y="46" width="6" height="6" fill="#f5a02e" fill-opacity="0.36"/>
<rect x="168" y="46" width="6" height="6" fill="#f5a02e" fill-opacity="0.88"/>
<rect x="114" y="52" width="6" height="6" fill="#86c286" fill-opacity="0.88"/>
<rect x="120" y="52" width="6" height="6" fill="#c8e05a" fill-opacity="0.88"/>
<rect x="126" y="52" width="6" height="6" fill="#c8e05a" fill-opacity="0.88"/>
<rect x="132" y="52" width="6" height="6" fill="#c8e05a" fill-opacity="0.36"/>
<rect x="138" y="52" width="6" height="6" fill="#f5a02e" fill-opacity="0.36"/>
<rect x="144" y="52" width="6" height="6" fill="#f5a02e" fill-opacity="0.88"/>
<rect x="150" y="52" width="6" height="6" fill="#f5a02e" fill-opacity="0.36"/>
<rect x="156" y="52" width="6" height="6" fill="#f5a02e" fill-opacity="0.36"/>
<rect x="162" y="52" width="6" height="6" fill="#e8361e" fill-opacity="0.88"/>
<rect x="168" y="52" width="6" height="6" fill="#e8361e" fill-opacity="0.88"/>
<rect x="108" y="58" width="6" height="6" fill="#f5a02e" fill-opacity="0.36"/>
<rect x="114" y="58" width="6" height="6" fill="#c8e05a" fill-opacity="0.88"/>
<rect x="120" y="58" width="6" height="6" fill="#2eaaa8" fill-opacity="0.88"/>
<rect x="126" y="58" width="6" height="6" fill="#c8e05a" fill-opacity="0.88"/>
<rect x="132" y="58" width="6" height="6" fill="#f5a02e" fill-opacity="0.36"/>
<rect x="138" y="58" width="6" height="6" fill="#f5a02e" fill-opacity="0.36"/>
<rect x="156" y="58" width="6" height="6" fill="#f5a02e" fill-opacity="0.36"/>
<rect x="162" y="58" width="6" height="6" fill="#f5a02e" fill-opacity="0.36"/>
<rect x="102" y="64" width="6" height="6" fill="#f5a02e" fill-opacity="0.36"/>
<rect x="108" y="64" width="6" height="6" fill="#f5a02e" fill-opacity="0.88"/>
<rect x="114" y="64" width="6" height="6" fill="#2eaaa8" fill-opacity="0.88"/>
<rect x="120" y="64" width="6" height="6" fill="#1a8cd0" fill-opacity="0.88"/>
<rect x="126" y="64" width="6" height="6" fill="#86c286" fill-opacity="0.88"/>
<rect x="132" y="64" width="6" height="6" fill="#f4e23c" fill-opacity="0.36"/>
<rect x="138" y="64" width="6" height="6" fill="#f5a02e" fill-opacity="0.36"/>
<rect x="150" y="64" width="6" height="6" fill="#e8361e" fill-opacity="0.88"/>
<rect x="156" y="64" width="6" height="6" fill="#f5a02e" fill-opacity="0.36"/>
<rect x="90" y="70" width="6" height="6" fill="#f4e23c" fill-opacity="0.36"/>
<rect x="96" y="70" width="6" height="6" fill="#f5a02e" fill-opacity="0.88"/>
<rect x="102" y="70" width="6" height="6" fill="#f5a02e" fill-opacity="0.88"/>
<rect x="108" y="70" width="6" height="6" fill="#c8e05a" fill-opacity="0.88"/>
<rect x="114" y="70" width="6" height="6" fill="#2eaaa8" fill-opacity="0.88"/>
<rect x="120" y="70" width="6" height="6" fill="#2eaaa8" fill-opacity="0.88"/>
<rect x="126" y="70" width="6" height="6" fill="#e8361e" fill-opacity="0.88"/>
<rect x="132" y="70" width="6" height="6" fill="#f5a02e" fill-opacity="0.36"/>
<rect x="138" y="70" width="6" height="6" fill="#f5a02e" fill-opacity="0.36"/>
<rect x="150" y="70" width="6" height="6" fill="#e8361e" fill-opacity="0.88"/>
<rect x="156" y="70" width="6" height="6" fill="#f5a02e" fill-opacity="0.36"/>
<rect x="90" y="76" width="6" height="6" fill="#f5a02e" fill-opacity="0.36"/>
<rect x="96" y="76" width="6" height="6" fill="#f4e23c" fill-opacity="0.88"/>
<rect x="102" y="76" width="6" height="6" fill="#e8361e" fill-opacity="0.88"/>
<rect x="108" y="76" width="6" height="6" fill="#c8e05a" fill-opacity="0.88"/>
<rect x="114" y="76" width="6" height="6" fill="#2eaaa8" fill-opacity="0.88"/>
<rect x="120" y="76" width="6" height="6" fill="#c8e05a" fill-opacity="0.88"/>
<rect x="126" y="76" width="6" height="6" fill="#2eaaa8" fill-opacity="0.88"/>
<rect x="132" y="76" width="6" height="6" fill="#c8e05a" fill-opacity="0.88"/>
<rect x="138" y="76" width="6" height="6" fill="#2eaaa8" fill-opacity="0.88"/>
<rect x="144" y="76" width="6" height="6" fill="#86c286" fill-opacity="0.88"/>
<rect x="150" y="76" width="6" height="6" fill="#2eaaa8" fill-opacity="0.88"/>
<rect x="156" y="76" width="6" height="6" fill="#c8e05a" fill-opacity="0.88"/>
<rect x="162" y="76" width="6" height="6" fill="#c8e05a" fill-opacity="0.36"/>
<rect x="96" y="82" width="6" height="6" fill="#f4e23c" fill-opacity="0.88"/>
<rect x="102" y="82" width="6" height="6" fill="#c8e05a" fill-opacity="0.88"/>
<rect x="108" y="82" width="6" height="6" fill="#f4e23c" fill-opacity="0.88"/>
<rect x="114" y="82" width="6" height="6" fill="#c8e05a" fill-opacity="0.88"/>
<rect x="120" y="82" width="6" height="6" fill="#2eaaa8" fill-opacity="0.88"/>
<rect x="126" y="82" width="6" height="6" fill="#c8e05a" fill-opacity="0.88"/>
<rect x="132" y="82" width="6" height="6" fill="#f4e23c" fill-opacity="0.88"/>
<rect x="138" y="82" width="6" height="6" fill="#c8e05a" fill-opacity="0.88"/>
<rect x="144" y="82" width="6" height="6" fill="#2eaaa8" fill-opacity="0.88"/>
<rect x="150" y="82" width="6" height="6" fill="#c8e05a" fill-opacity="0.36"/>
<rect x="162" y="82" width="6" height="6" fill="#f5a02e" fill-opacity="0.88"/>
<rect x="168" y="82" width="6" height="6" fill="#f5a02e" fill-opacity="0.36"/>
<rect x="84" y="88" width="6" height="6" fill="#c8e05a" fill-opacity="0.36"/>
<rect x="90" y="88" width="6" height="6" fill="#c8e05a" fill-opacity="0.88"/>
<rect x="96" y="88" width="6" height="6" fill="#86c286" fill-opacity="0.88"/>
<rect x="102" y="88" width="6" height="6" fill="#2eaaa8" fill-opacity="0.88"/>
<rect x="108" y="88" width="6" height="6" fill="#c8e05a" fill-opacity="0.88"/>
<rect x="114" y="88" width="6" height="6" fill="#c8e05a" fill-opacity="0.88"/>
<rect x="120" y="88" width="6" height="6" fill="#f4e23c" fill-opacity="0.88"/>
<rect x="126" y="88" width="6" height="6" fill="#c8e05a" fill-opacity="0.88"/>
<rect x="132" y="88" width="6" height="6" fill="#c8e05a" fill-opacity="0.88"/>
<rect x="138" y="88" width="6" height="6" fill="#2eaaa8" fill-opacity="0.88"/>
<rect x="144" y="88" width="6" height="6" fill="#c8e05a" fill-opacity="0.36"/>
<rect x="150" y="88" width="6" height="6" fill="#e8361e" fill-opacity="0.88"/>
<rect x="156" y="88" width="6" height="6" fill="#f5a02e" fill-opacity="0.36"/>
<rect x="162" y="88" width="6" height="6" fill="#f5a02e" fill-opacity="0.88"/>
<rect x="168" y="88" width="6" height="6" fill="#f5a02e" fill-opacity="0.36"/>
<rect x="84" y="94" width="6" height="6" fill="#f4e23c" fill-opacity="0.36"/>
<rect x="90" y="94" width="6" height="6" fill="#f4e23c" fill-opacity="0.36"/>
<rect x="96" y="94" width="6" height="6" fill="#c8e05a" fill-opacity="0.36"/>
<rect x="108" y="94" width="6" height="6" fill="#e8361e" fill-opacity="0.36"/>
<rect x="114" y="94" width="6" height="6" fill="#e8361e" fill-opacity="0.36"/>
<rect x="120" y="94" width="6" height="6" fill="#e8361e" fill-opacity="0.36"/>
<rect x="126" y="94" width="6" height="6" fill="#f5a02e" fill-opacity="0.36"/>
<rect x="132" y="94" width="6" height="6" fill="#e8361e" fill-opacity="0.88"/>
<rect x="138" y="94" width="6" height="6" fill="#f5a02e" fill-opacity="0.36"/>
<rect x="144" y="94" width="6" height="6" fill="#f5a02e" fill-opacity="0.36"/>
<rect x="150" y="94" width="6" height="6" fill="#e8361e" fill-opacity="0.36"/>
<rect x="162" y="94" width="6" height="6" fill="#f5a02e" fill-opacity="0.88"/>
<rect x="168" y="94" width="6" height="6" fill="#c8e05a" fill-opacity="0.36"/>
<rect x="174" y="94" width="6" height="6" fill="#c8e05a" fill-opacity="0.36"/>
<rect x="84" y="100" width="6" height="6" fill="#e8361e" fill-opacity="0.36"/>
<rect x="90" y="100" width="6" height="6" fill="#e8361e" fill-opacity="0.88"/>
<rect x="96" y="100" width="6" height="6" fill="#e8361e" fill-opacity="0.36"/>
<rect x="102" y="100" width="6" height="6" fill="#e8361e" fill-opacity="0.36"/>
<rect x="132" y="100" width="6" height="6" fill="#e8361e" fill-opacity="0.36"/>
<rect x="138" y="100" width="6" height="6" fill="#f5a02e" fill-opacity="0.36"/>
<rect x="144" y="100" width="6" height="6" fill="#e8361e" fill-opacity="0.36"/>
<rect x="150" y="100" width="6" height="6" fill="#e8361e" fill-opacity="0.36"/>
<rect x="174" y="100" width="6" height="6" fill="#c8e05a" fill-opacity="0.36"/>
<rect x="90" y="106" width="6" height="6" fill="#f5a02e" fill-opacity="0.36"/>
<rect x="96" y="106" width="6" height="6" fill="#e8361e" fill-opacity="0.36"/>
<rect x="102" y="106" width="6" height="6" fill="#e8361e" fill-opacity="0.36"/>
<rect x="150" y="106" width="6" height="6" fill="#e8361e" fill-opacity="0.36"/>
<rect x="156" y="106" width="6" height="6" fill="#e8361e" fill-opacity="0.88"/>
<rect x="162" y="106" width="6" height="6" fill="#e8361e" fill-opacity="0.36"/>
<rect x="84" y="112" width="6" height="6" fill="#e8361e" fill-opacity="0.88"/>
<rect x="90" y="112" width="6" height="6" fill="#e8361e" fill-opacity="0.88"/>
<rect x="96" y="112" width="6" height="6" fill="#e8361e" fill-opacity="0.36"/>
<rect x="84" y="118" width="6" height="6" fill="#f5a02e" fill-opacity="0.36"/>
<rect x="90" y="118" width="6" height="6" fill="#e8361e" fill-opacity="0.36"/>
<rect x="96" y="118" width="6" height="6" fill="#f5a02e" fill-opacity="0.36"/>
</g><g filter="url(#soft2)">
<polygon points="41,76.4 46,75.4 51,74.4 52,78 46,79 41.5,78.6" fill="#86c286" fill-opacity="1.00"/>
<polygon points="51,74.4 57,73.4 58,77.4 52,78" fill="#2eaaa8" fill-opacity="1.00"/>
<polygon points="57,73.4 62,72 67,71.2 67.6,73.2 64,76.2 58,77.4" fill="#1a8cd0" fill-opacity="1.00"/>
<polygon points="50,78.6 56,77.4 61,77.6 57,80 51,80.4" fill="#86c286" fill-opacity="0.75"/>
<ellipse cx="64.5" cy="72.2" rx="2.4" ry="1.2" fill="#f6a030" fill-opacity="0.80"/>
</g></g>
<g class="bnd">
<polyline points="141.0,38.5 136.0,40.0 132.5,42.2 128.2,46.5 123.9,51.8 121.7,55.1 120.5,58.5 119.6,61.5 117.4,66.9 116.4,70.1"/>
<polyline points="103.5,56.5 109.9,57.6 114.2,58.3 118.5,59.4 120.5,58.5"/>
<polyline points="116.4,70.1 121.7,71.2 127.1,74.4 131.4,76.6 135.7,79.8"/>
<polyline points="135.7,79.8 138.0,77.0 142.1,74.5 145.3,75.0 148.6,73.4 152.9,71.8 158.8,71.1"/>
<polyline points="135.7,79.8 132.0,85.0 128.0,90.0 125.0,95.0 124.7,100.0 124.7,108.1"/>
<polyline points="103.3,61.3 103.9,59.4 105.2,55.5 106.5,50.3 107.8,45.2 106.8,41.5 104.5,37.6 105.0,34.4 107.0,31.1 111.2,28.3 116.5,25.6 122.2,22.8 124.0,25.0 127.4,26.0 130.0,27.3 131.3,30.5 133.0,33.5 135.2,35.2 139.5,36.2 144.0,37.6 147.2,38.7 152.3,39.6 157.5,40.8 159.4,43.6 157.0,47.1 161.4,49.2 166.5,46.6 170.4,43.9 174.9,42.2 179.4,44.0 183.3,45.5 187.2,44.6 191.0,45.8 193.6,47.0 191.7,49.0 191.7,51.0 187.2,51.8 183.3,52.5 179.4,53.7 175.5,56.1 171.7,58.7 169.1,61.3 165.2,64.0 161.4,67.9 158.8,71.1 162.6,73.1 166.5,75.0 169.7,77.6 171.7,80.8 173.6,84.7 175.5,88.5 178.1,92.4 180.7,96.3 182.6,99.5 184.9,101.6 182.3,102.5 179.7,104.4 176.5,106.8 173.3,109.4 170.7,110.6 168.1,109.4 165.5,108.3 163.0,108.1 161.7,109.4 159.7,113.2 157.8,115.8 155.9,118.4 154.6,121.6 151.4,123.5 147.5,124.2 143.8,122.2 139.2,119.8 135.9,118.1 132.7,119.2 129.5,120.3 126.3,120.8 123.0,121.9 119.8,123.5 115.5,125.1 111.2,126.2 108.0,127.3 105.8,126.2 104.8,123.0 104.7,121.2 101.5,120.2 97.6,121.6 93.8,122.6 89.9,122.3 86.0,120.3 82.2,118.4 79.5,119.1 75.8,120.2 72.6,120.8 68.7,121.2 64.8,122.7 61.6,125.5 58.5,123.0 55.5,120.2 54.6,117.0 54.5,114.9 57.7,113.6 62.3,113.6 67.6,111.6 70.6,109.6 70.2,106.8 67.6,104.0 66.0,101.0 65.2,98.7 65.8,95.2 69.4,93.5 69.4,90.8 66.5,88.2 62.3,87.9 58.0,86.5 55.2,84.6 52.6,82.8 46.0,83.2 40.5,83.4 37.1,82.6 35.2,80.0 35.8,76.8 35.2,74.2 34.8,71.8 36.2,69.7 41.0,69.2 47.0,68.4 54.0,67.2 61.0,66.6 67.6,66.8 71.9,71.6 72.3,73.5"/>
<polyline points="72.3,73.5 73.0,69.7 74.3,65.8 73.6,61.9 73.6,56.8 74.3,52.3 78.8,51.0 83.9,51.0 87.8,52.3 91.0,54.8 94.3,57.4 96.8,60.0 99.4,61.3 103.3,61.3 100.7,63.9 96.8,65.8 93.0,67.1 87.8,68.4 82.6,71.0 77.5,72.9 72.3,73.5"/>
<polyline points="72.3,73.5 73.6,77.4 75.5,81.3 77.5,84.5 79.7,87.7 81.6,89.6 85.5,93.4"/>
<polyline points="66.5,88.2 70.0,87.9 73.9,88.0 79.0,87.6 81.6,89.6"/>
<polyline points="85.5,93.4 89.9,93.9 96.4,94.5 102.8,95.2 106.7,97.1 109.3,99.7 113.1,101.6 117.0,103.5 120.9,105.5 124.1,106.8 126.8,108.4 128.4,109.8 127.6,112.6 127.1,115.0 128.0,117.6 129.5,120.3"/>
<polyline points="163.0,108.1 159.7,106.1 156.5,104.2 155.2,101.6 153.9,97.7 151.4,93.9"/>
</g></g>
<text class="ti" x="36.9" y="36.7">Maturity</text>
<text class="lt" x="217.4" y="31.6" text-anchor="end">(g)</text>
<rect x="188.4" y="92" width="7.8" height="35.8" fill="url(#cb)"/>
<text class="cb" x="188.2" y="85.6">CRT</text>
<text class="cb" x="198.2" y="96.2">1</text>
<text class="cb" x="198.2" y="131.8">0.93</text>
</g>
</svg>
</body></html>
